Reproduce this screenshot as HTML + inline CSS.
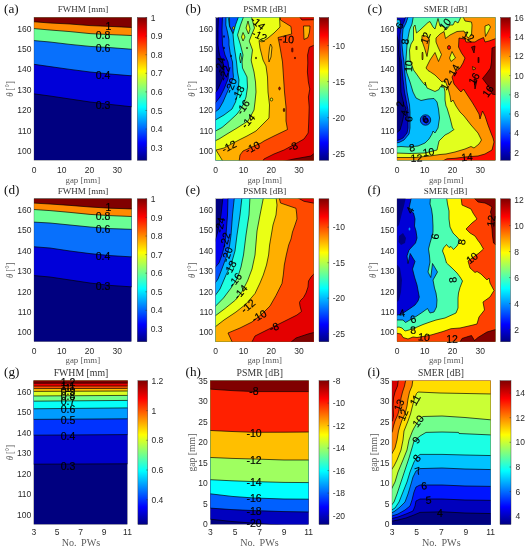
<!DOCTYPE html>
<html lang="en"><head><meta charset="utf-8"><title>Contour figure</title>
<style>
html,body{margin:0;padding:0;background:#fff;}
svg{display:block;}
.s{font-family:"Liberation Sans", Arial, sans-serif;}
.r{font-family:"Liberation Serif", "DejaVu Serif", serif;}
.lb{stroke:#000;stroke-width:0.15;}
.cl{stroke:#000;stroke-width:0.8;stroke-opacity:0.85;fill-opacity:1;stroke-linejoin:round;}
polyline.cl{fill:none;}
</style></head><body>
<svg width="527" height="550" viewBox="0 0 527 550">
<defs>
<linearGradient id="jet" x1="0" y1="1" x2="0" y2="0">
<stop offset="0" stop-color="#000083"/><stop offset="0.1216" stop-color="#0000ff"/><stop offset="0.373" stop-color="#00ffff"/>
<stop offset="0.624" stop-color="#ffff00"/><stop offset="0.875" stop-color="#ff0000"/><stop offset="1" stop-color="#800000"/>
</linearGradient>
<clipPath id="cpa"><rect x="34.0" y="17.5" width="97.6" height="142.8"/></clipPath>
<clipPath id="cpd"><rect x="34.0" y="198.8" width="97.6" height="143.0"/></clipPath>
<clipPath id="cpb"><rect x="215.7" y="17.5" width="98.0" height="142.8"/></clipPath>
<clipPath id="cpc"><rect x="397.0" y="17.5" width="98.3" height="142.8"/></clipPath>
<clipPath id="cpe"><rect x="215.7" y="198.8" width="98.0" height="143.0"/></clipPath>
<clipPath id="cpf"><rect x="397.0" y="198.8" width="98.3" height="143.0"/></clipPath>
<clipPath id="cpg"><rect x="33.8" y="380.7" width="93.7" height="143.8"/></clipPath>
<clipPath id="cph"><rect x="210.4" y="380.7" width="98.2" height="143.8"/></clipPath>
<clipPath id="cpi"><rect x="392.0" y="380.7" width="98.6" height="143.8"/></clipPath>
</defs>
<rect width="527" height="550" fill="#fff"/>
<g clip-path="url(#cpa)">
<rect x="34.0" y="17.5" width="97.6" height="142.8" fill="#000080"/>
<polygon points="32.0,93.6 50.0,96.0 70.0,99.0 90.0,102.0 110.0,104.4 133.6,107.0 133.6,15.5 32.0,15.5" fill="#0000d9"/>
<polyline class="cl" points="32.0,93.6 50.0,96.0 70.0,99.0 90.0,102.0 110.0,104.4 133.6,107.0"/>
<polygon points="32.0,64.0 50.0,66.6 70.0,69.4 90.0,72.0 110.0,74.0 133.6,76.0 133.6,15.5 32.0,15.5" fill="#0870fc"/>
<polyline class="cl" points="32.0,64.0 50.0,66.6 70.0,69.4 90.0,72.0 110.0,74.0 133.6,76.0"/>
<polygon points="32.0,40.4 50.0,42.0 70.0,44.4 90.0,46.4 110.0,47.6 133.6,49.4 133.6,15.5 32.0,15.5" fill="#6aff95"/>
<polyline class="cl" points="32.0,40.4 50.0,42.0 70.0,44.4 90.0,46.4 110.0,47.6 133.6,49.4"/>
<polygon points="32.0,28.4 50.0,30.0 70.0,31.6 90.0,33.6 110.0,34.6 133.6,35.6 133.6,15.5 32.0,15.5" fill="#ff8a00"/>
<polyline class="cl" points="32.0,28.4 50.0,30.0 70.0,31.6 90.0,33.6 110.0,34.6 133.6,35.6"/>
<polygon points="32.0,21.6 50.0,23.0 70.0,24.0 90.0,25.6 110.0,26.4 133.6,27.6 133.6,15.5 32.0,15.5" fill="#800000"/>
<polyline class="cl" points="32.0,21.6 50.0,23.0 70.0,24.0 90.0,25.6 110.0,26.4 133.6,27.6"/>
</g>
<text class="s lb" x="108.4" y="26.5" font-size="10.5" text-anchor="middle" fill="#000" transform="rotate(0.0 108.4 26.5)" dy="3.8">1</text>
<text class="s lb" x="103.0" y="35.0" font-size="10.5" text-anchor="middle" fill="#000" transform="rotate(0.0 103.0 35.0)" dy="3.8">0.8</text>
<text class="s lb" x="103.0" y="48.0" font-size="10.5" text-anchor="middle" fill="#000" transform="rotate(0.0 103.0 48.0)" dy="3.8">0.6</text>
<text class="s lb" x="103.0" y="75.0" font-size="10.5" text-anchor="middle" fill="#000" transform="rotate(0.0 103.0 75.0)" dy="3.8">0.4</text>
<text class="s lb" x="103.0" y="105.0" font-size="10.5" text-anchor="middle" fill="#000" transform="rotate(0.0 103.0 105.0)" dy="3.8">0.3</text>
<rect x="34.0" y="17.5" width="97.6" height="142.8" fill="none" stroke="#333" stroke-width="0.4" stroke-opacity="0.7"/>
<rect x="137.3" y="17.5" width="9.6" height="142.8" fill="url(#jet)" stroke="#333" stroke-width="0.4"/>
<line x1="145.4" y1="17.5" x2="146.9" y2="17.5" stroke="#333" stroke-width="0.5"/>
<text class="s" x="150.7" y="20.6" font-size="8.5" text-anchor="start" fill="#2a2a2a">1</text>
<line x1="145.4" y1="36.1" x2="146.9" y2="36.1" stroke="#333" stroke-width="0.5"/>
<text class="s" x="150.7" y="39.1" font-size="8.5" text-anchor="start" fill="#2a2a2a">0.9</text>
<line x1="145.4" y1="54.7" x2="146.9" y2="54.7" stroke="#333" stroke-width="0.5"/>
<text class="s" x="150.7" y="57.7" font-size="8.5" text-anchor="start" fill="#2a2a2a">0.8</text>
<line x1="145.4" y1="73.3" x2="146.9" y2="73.3" stroke="#333" stroke-width="0.5"/>
<text class="s" x="150.7" y="76.4" font-size="8.5" text-anchor="start" fill="#2a2a2a">0.7</text>
<line x1="145.4" y1="91.9" x2="146.9" y2="91.9" stroke="#333" stroke-width="0.5"/>
<text class="s" x="150.7" y="95.0" font-size="8.5" text-anchor="start" fill="#2a2a2a">0.6</text>
<line x1="145.4" y1="110.5" x2="146.9" y2="110.5" stroke="#333" stroke-width="0.5"/>
<text class="s" x="150.7" y="113.5" font-size="8.5" text-anchor="start" fill="#2a2a2a">0.5</text>
<line x1="145.4" y1="129.1" x2="146.9" y2="129.1" stroke="#333" stroke-width="0.5"/>
<text class="s" x="150.7" y="132.2" font-size="8.5" text-anchor="start" fill="#2a2a2a">0.4</text>
<line x1="145.4" y1="147.7" x2="146.9" y2="147.7" stroke="#333" stroke-width="0.5"/>
<text class="s" x="150.7" y="150.8" font-size="8.5" text-anchor="start" fill="#2a2a2a">0.3</text>
<text class="s" x="31.4" y="31.6" font-size="8.5" text-anchor="end" fill="#2a2a2a">160</text>
<text class="s" x="31.4" y="52.0" font-size="8.5" text-anchor="end" fill="#2a2a2a">150</text>
<text class="s" x="31.4" y="72.4" font-size="8.5" text-anchor="end" fill="#2a2a2a">140</text>
<text class="s" x="31.4" y="92.8" font-size="8.5" text-anchor="end" fill="#2a2a2a">130</text>
<text class="s" x="31.4" y="113.2" font-size="8.5" text-anchor="end" fill="#2a2a2a">120</text>
<text class="s" x="31.4" y="133.7" font-size="8.5" text-anchor="end" fill="#2a2a2a">110</text>
<text class="s" x="31.4" y="154.1" font-size="8.5" text-anchor="end" fill="#2a2a2a">100</text>
<text class="s" x="34.0" y="172.6" font-size="8.5" text-anchor="middle" fill="#2a2a2a">0</text>
<text class="s" x="61.8" y="172.6" font-size="8.5" text-anchor="middle" fill="#2a2a2a">10</text>
<text class="s" x="89.5" y="172.6" font-size="8.5" text-anchor="middle" fill="#2a2a2a">20</text>
<text class="s" x="117.2" y="172.6" font-size="8.5" text-anchor="middle" fill="#2a2a2a">30</text>
<g clip-path="url(#cpd)">
<rect x="34.0" y="198.8" width="97.6" height="143.0" fill="#000080"/>
<polygon points="32.0,275.4 50.0,277.0 70.0,280.0 90.0,283.0 110.0,285.4 133.6,287.0 133.6,196.8 32.0,196.8" fill="#0000d9"/>
<polyline class="cl" points="32.0,275.4 50.0,277.0 70.0,280.0 90.0,283.0 110.0,285.4 133.6,287.0"/>
<polygon points="32.0,246.6 50.0,248.0 70.0,251.0 90.0,253.6 110.0,255.6 133.6,257.0 133.6,196.8 32.0,196.8" fill="#0870fc"/>
<polyline class="cl" points="32.0,246.6 50.0,248.0 70.0,251.0 90.0,253.6 110.0,255.6 133.6,257.0"/>
<polygon points="32.0,222.0 50.0,223.0 70.0,225.0 90.0,227.0 110.0,228.6 133.6,229.4 133.6,196.8 32.0,196.8" fill="#6aff95"/>
<polyline class="cl" points="32.0,222.0 50.0,223.0 70.0,225.0 90.0,227.0 110.0,228.6 133.6,229.4"/>
<polygon points="32.0,209.4 50.0,210.6 70.0,212.4 90.0,214.4 110.0,215.6 133.6,216.6 133.6,196.8 32.0,196.8" fill="#ff8a00"/>
<polyline class="cl" points="32.0,209.4 50.0,210.6 70.0,212.4 90.0,214.4 110.0,215.6 133.6,216.6"/>
<polygon points="32.0,203.0 50.0,204.0 70.0,205.4 90.0,207.0 110.0,208.2 133.6,209.0 133.6,196.8 32.0,196.8" fill="#800000"/>
<polyline class="cl" points="32.0,203.0 50.0,204.0 70.0,205.4 90.0,207.0 110.0,208.2 133.6,209.0"/>
</g>
<text class="s lb" x="108.4" y="207.5" font-size="10.5" text-anchor="middle" fill="#000" transform="rotate(0.0 108.4 207.5)" dy="3.8">1</text>
<text class="s lb" x="103.0" y="216.0" font-size="10.5" text-anchor="middle" fill="#000" transform="rotate(0.0 103.0 216.0)" dy="3.8">0.8</text>
<text class="s lb" x="103.0" y="229.0" font-size="10.5" text-anchor="middle" fill="#000" transform="rotate(0.0 103.0 229.0)" dy="3.8">0.6</text>
<text class="s lb" x="103.0" y="256.0" font-size="10.5" text-anchor="middle" fill="#000" transform="rotate(0.0 103.0 256.0)" dy="3.8">0.4</text>
<text class="s lb" x="103.0" y="286.0" font-size="10.5" text-anchor="middle" fill="#000" transform="rotate(0.0 103.0 286.0)" dy="3.8">0.3</text>
<rect x="34.0" y="198.8" width="97.6" height="143.0" fill="none" stroke="#333" stroke-width="0.4" stroke-opacity="0.7"/>
<rect x="137.3" y="198.8" width="9.6" height="143.0" fill="url(#jet)" stroke="#333" stroke-width="0.4"/>
<line x1="145.4" y1="198.8" x2="146.9" y2="198.8" stroke="#333" stroke-width="0.5"/>
<text class="s" x="150.7" y="201.9" font-size="8.5" text-anchor="start" fill="#2a2a2a">1</text>
<line x1="145.4" y1="217.4" x2="146.9" y2="217.4" stroke="#333" stroke-width="0.5"/>
<text class="s" x="150.7" y="220.5" font-size="8.5" text-anchor="start" fill="#2a2a2a">0.9</text>
<line x1="145.4" y1="236.0" x2="146.9" y2="236.0" stroke="#333" stroke-width="0.5"/>
<text class="s" x="150.7" y="239.1" font-size="8.5" text-anchor="start" fill="#2a2a2a">0.8</text>
<line x1="145.4" y1="254.6" x2="146.9" y2="254.6" stroke="#333" stroke-width="0.5"/>
<text class="s" x="150.7" y="257.7" font-size="8.5" text-anchor="start" fill="#2a2a2a">0.7</text>
<line x1="145.4" y1="273.2" x2="146.9" y2="273.2" stroke="#333" stroke-width="0.5"/>
<text class="s" x="150.7" y="276.3" font-size="8.5" text-anchor="start" fill="#2a2a2a">0.6</text>
<line x1="145.4" y1="291.8" x2="146.9" y2="291.8" stroke="#333" stroke-width="0.5"/>
<text class="s" x="150.7" y="294.9" font-size="8.5" text-anchor="start" fill="#2a2a2a">0.5</text>
<line x1="145.4" y1="310.4" x2="146.9" y2="310.4" stroke="#333" stroke-width="0.5"/>
<text class="s" x="150.7" y="313.4" font-size="8.5" text-anchor="start" fill="#2a2a2a">0.4</text>
<line x1="145.4" y1="329.0" x2="146.9" y2="329.0" stroke="#333" stroke-width="0.5"/>
<text class="s" x="150.7" y="332.1" font-size="8.5" text-anchor="start" fill="#2a2a2a">0.3</text>
<text class="s" x="31.4" y="212.9" font-size="8.5" text-anchor="end" fill="#2a2a2a">160</text>
<text class="s" x="31.4" y="233.3" font-size="8.5" text-anchor="end" fill="#2a2a2a">150</text>
<text class="s" x="31.4" y="253.7" font-size="8.5" text-anchor="end" fill="#2a2a2a">140</text>
<text class="s" x="31.4" y="274.1" font-size="8.5" text-anchor="end" fill="#2a2a2a">130</text>
<text class="s" x="31.4" y="294.5" font-size="8.5" text-anchor="end" fill="#2a2a2a">120</text>
<text class="s" x="31.4" y="314.9" font-size="8.5" text-anchor="end" fill="#2a2a2a">110</text>
<text class="s" x="31.4" y="335.4" font-size="8.5" text-anchor="end" fill="#2a2a2a">100</text>
<text class="s" x="34.0" y="354.1" font-size="8.5" text-anchor="middle" fill="#2a2a2a">0</text>
<text class="s" x="61.8" y="354.1" font-size="8.5" text-anchor="middle" fill="#2a2a2a">10</text>
<text class="s" x="89.5" y="354.1" font-size="8.5" text-anchor="middle" fill="#2a2a2a">20</text>
<text class="s" x="117.2" y="354.1" font-size="8.5" text-anchor="middle" fill="#2a2a2a">30</text>
<g clip-path="url(#cpb)">
<rect x="215.7" y="17.5" width="98.0" height="142.8" fill="#000080"/>
<polygon points="218.5,15.5 218.0,30.0 218.0,45.0 219.5,55.0 223.0,62.0 224.0,68.0 224.0,75.0 221.0,82.0 218.0,89.0 213.7,95.0 213.7,162.3 315.7,162.3 315.7,15.5" fill="#0000e6"/>
<polyline class="cl" points="218.5,15.5 218.0,30.0 218.0,45.0 219.5,55.0 223.0,62.0 224.0,68.0 224.0,75.0 221.0,82.0 218.0,89.0 213.7,95.0"/>
<polygon points="222.5,15.5 222.0,30.0 222.5,45.0 225.0,55.0 228.0,62.0 229.0,70.0 228.0,79.0 224.0,89.0 220.0,97.0 213.7,105.0 213.7,162.3 315.7,162.3 315.7,15.5" fill="#004eff"/>
<polyline class="cl" points="222.5,15.5 222.0,30.0 222.5,45.0 225.0,55.0 228.0,62.0 229.0,70.0 228.0,79.0 224.0,89.0 220.0,97.0 213.7,105.0"/>
<polygon points="226.0,15.5 225.8,25.0 227.5,32.0 229.0,40.0 229.0,45.0 230.5,55.0 232.5,62.0 233.0,72.0 233.5,77.0 230.5,85.0 226.0,95.0 223.0,102.0 219.0,109.0 213.7,113.0 213.7,162.3 315.7,162.3 315.7,15.5" fill="#00b4ff"/>
<polyline class="cl" points="226.0,15.5 225.8,25.0 227.5,32.0 229.0,40.0 229.0,45.0 230.5,55.0 232.5,62.0 233.0,72.0 233.5,77.0 230.5,85.0 226.0,95.0 223.0,102.0 219.0,109.0 213.7,113.0"/>
<polygon points="228.0,15.5 229.5,26.0 233.0,34.0 233.5,40.0 234.0,45.0 235.5,55.0 236.5,62.0 237.5,72.0 239.0,80.0 238.0,92.0 235.5,102.0 232.0,109.0 224.0,115.0 213.7,121.0 213.7,162.3 315.7,162.3 315.7,15.5" fill="#1cffe3"/>
<polyline class="cl" points="228.0,15.5 229.5,26.0 233.0,34.0 233.5,40.0 234.0,45.0 235.5,55.0 236.5,62.0 237.5,72.0 239.0,80.0 238.0,92.0 235.5,102.0 232.0,109.0 224.0,115.0 213.7,121.0"/>
<polygon points="244.0,15.5 240.5,25.0 237.5,35.0 240.5,45.0 243.0,55.0 242.0,62.0 242.5,68.0 247.0,77.0 247.5,87.0 246.0,97.0 243.5,104.0 240.0,110.0 237.0,114.0 229.0,121.5 222.0,127.5 213.7,132.0 213.7,162.3 315.7,162.3 315.7,15.5" fill="#82ff7d"/>
<polyline class="cl" points="244.0,15.5 240.5,25.0 237.5,35.0 240.5,45.0 243.0,55.0 242.0,62.0 242.5,68.0 247.0,77.0 247.5,87.0 246.0,97.0 243.5,104.0 240.0,110.0 237.0,114.0 229.0,121.5 222.0,127.5 213.7,132.0"/>
<polygon points="251.0,15.5 254.5,28.0 251.5,35.0 249.2,41.0 252.5,50.0 251.2,60.0 251.5,62.0 254.0,72.0 255.5,82.0 256.0,92.0 255.0,102.0 254.0,110.0 248.0,121.0 237.0,128.0 227.0,134.0 219.0,139.0 213.7,141.5 213.7,162.3 315.7,162.3 315.7,15.5" fill="#e9ff16"/>
<polyline class="cl" points="251.0,15.5 254.5,28.0 251.5,35.0 249.2,41.0 252.5,50.0 251.2,60.0 251.5,62.0 254.0,72.0 255.5,82.0 256.0,92.0 255.0,102.0 254.0,110.0 248.0,121.0 237.0,128.0 227.0,134.0 219.0,139.0 213.7,141.5"/>
<polygon points="279.5,15.5 280.0,27.0 274.0,33.0 268.0,38.0 262.0,42.0 259.0,40.5 260.0,48.0 263.0,60.0 266.0,66.0 267.5,77.0 268.0,92.0 269.5,105.0 269.0,118.0 265.0,122.0 256.0,131.0 247.0,136.0 239.0,140.0 224.0,148.0 216.0,150.0 223.5,162.3 315.7,162.3 315.7,15.5" fill="#ffaf00"/>
<polyline class="cl" points="279.5,15.5 280.0,27.0 274.0,33.0 268.0,38.0 262.0,42.0 259.0,40.5 260.0,48.0 263.0,60.0 266.0,66.0 267.5,77.0 268.0,92.0 269.5,105.0 269.0,118.0 265.0,122.0 256.0,131.0 247.0,136.0 239.0,140.0 224.0,148.0 216.0,150.0 223.5,162.3"/>
<polygon points="280.3,15.5 280.5,20.0 291.0,26.5 291.7,34.0 278.0,37.5 279.0,42.0 280.5,50.0 282.5,62.0 283.5,77.0 284.5,92.0 286.0,107.0 286.0,121.0 287.5,129.5 274.0,136.0 264.0,141.0 261.0,143.0 243.0,151.0 240.0,155.0 239.0,162.3 315.7,162.3 315.7,15.5" fill="#ff4800"/>
<polyline class="cl" points="280.3,15.5 280.5,20.0 291.0,26.5 291.7,34.0 278.0,37.5 279.0,42.0 280.5,50.0 282.5,62.0 283.5,77.0 284.5,92.0 286.0,107.0 286.0,121.0 287.5,129.5 274.0,136.0 264.0,141.0 261.0,143.0 243.0,151.0 240.0,155.0 239.0,162.3"/>
<polygon points="315.7,44.5 309.3,47.3 307.6,55.0 307.8,63.0 307.4,72.0 308.4,82.0 309.8,89.0 308.4,97.0 309.2,107.0 308.7,123.0 308.2,133.0 304.0,139.0 297.0,143.0 284.0,150.0 274.0,154.0 264.0,159.0 262.0,162.3 315.7,162.3" fill="#e10000"/>
<polyline class="cl" points="315.7,44.5 309.3,47.3 307.6,55.0 307.8,63.0 307.4,72.0 308.4,82.0 309.8,89.0 308.4,97.0 309.2,107.0 308.7,123.0 308.2,133.0 304.0,139.0 297.0,143.0 284.0,150.0 274.0,154.0 264.0,159.0 262.0,162.3"/>
<polygon points="298.5,15.5 302.0,20.0 315.7,19.7 315.7,15.5" fill="#e10000"/>
<polyline class="cl" points="298.5,15.5 302.0,20.0 315.7,19.7"/>
<polygon points="315.7,152.0 311.0,156.0 294.0,159.0 279.0,162.3 315.7,162.3" fill="#800000"/>
<polyline class="cl" points="315.7,152.0 311.0,156.0 294.0,159.0 279.0,162.3"/>
<polygon class="cl" points="229.5,15.5 239.0,15.5 235.5,25.0 233.2,33.5 229.6,26.0" fill="#004eff"/>
<ellipse class="cl" cx="233.5" cy="28.0" rx="0.9" ry="1.4" fill="#e9ff16"/>
<polygon class="cl" points="248.0,21.0 250.0,29.0 248.5,34.0 246.0,28.0" fill="#e9ff16"/>
<polygon class="cl" points="243.0,32.5 245.0,37.0 243.0,41.0 241.5,37.0" fill="#e9ff16"/>
<polygon class="cl" points="240.5,53.0 241.5,58.0 240.5,63.0 239.5,58.0" fill="#82ff7d"/>
<polygon class="cl" points="303.5,26.0 310.0,26.0 309.5,32.0 308.0,37.5 304.0,39.5" fill="#ffaf00"/>
<polygon class="cl" points="270.5,44.0 272.0,47.0 271.0,57.0 269.0,62.0 268.5,57.0 269.5,48.0" fill="#ffd21e"/>
<ellipse class="cl" cx="292.3" cy="50.0" rx="0.6" ry="2.2" fill="#e10000"/>
<ellipse class="cl" cx="295.0" cy="58.0" rx="0.6" ry="0.8" fill="#e10000"/>
<ellipse class="cl" cx="279.5" cy="88.5" rx="0.8" ry="1.4" fill="#e10000"/>
<ellipse class="cl" cx="271.5" cy="99.5" rx="1.2" ry="1.5" fill="#e9ff16"/>
<ellipse class="cl" cx="284.0" cy="110.0" rx="0.7" ry="1.8" fill="#e10000"/>
<ellipse class="cl" cx="224.0" cy="36.5" rx="0.5" ry="1.0" fill="#0000e6"/>
<ellipse class="cl" cx="224.0" cy="48.0" rx="0.5" ry="1.0" fill="#0000e6"/>
<ellipse class="cl" cx="231.0" cy="56.0" rx="0.5" ry="1.3" fill="#004eff"/>
<ellipse class="cl" cx="256.0" cy="58.0" rx="0.5" ry="1.0" fill="#ffaf00"/>
<ellipse class="cl" cx="247.0" cy="48.0" rx="0.5" ry="0.8" fill="#e9ff16"/>
</g>
<text class="s lb" x="258.0" y="23.0" font-size="10.5" text-anchor="middle" fill="#000" transform="rotate(40.0 258.0 23.0)" dy="3.8">-14</text>
<text class="s lb" x="259.5" y="35.5" font-size="10.5" text-anchor="middle" fill="#000" transform="rotate(25.0 259.5 35.5)" dy="3.8">-12</text>
<text class="s lb" x="286.5" y="39.0" font-size="10.5" text-anchor="middle" fill="#000" transform="rotate(3.0 286.5 39.0)" dy="3.8">-10</text>
<text class="s lb" x="220.0" y="65.0" font-size="10.5" text-anchor="middle" fill="#000" transform="rotate(-78.0 220.0 65.0)" dy="3.8">-24</text>
<text class="s lb" x="224.5" y="73.0" font-size="10.5" text-anchor="middle" fill="#000" transform="rotate(-72.0 224.5 73.0)" dy="3.8">-22</text>
<text class="s lb" x="230.8" y="85.5" font-size="10.5" text-anchor="middle" fill="#000" transform="rotate(-68.0 230.8 85.5)" dy="3.8">-20</text>
<text class="s lb" x="238.0" y="93.0" font-size="10.5" text-anchor="middle" fill="#000" transform="rotate(-62.0 238.0 93.0)" dy="3.8">-18</text>
<text class="s lb" x="243.0" y="107.0" font-size="10.5" text-anchor="middle" fill="#000" transform="rotate(-55.0 243.0 107.0)" dy="3.8">-16</text>
<text class="s lb" x="248.0" y="121.0" font-size="10.5" text-anchor="middle" fill="#000" transform="rotate(-48.0 248.0 121.0)" dy="3.8">-14</text>
<text class="s lb" x="229.0" y="146.5" font-size="10.5" text-anchor="middle" fill="#000" transform="rotate(-27.0 229.0 146.5)" dy="3.8">-12</text>
<text class="s lb" x="252.5" y="147.5" font-size="10.5" text-anchor="middle" fill="#000" transform="rotate(-27.0 252.5 147.5)" dy="3.8">-10</text>
<text class="s lb" x="293.0" y="146.5" font-size="10.5" text-anchor="middle" fill="#000" transform="rotate(-25.0 293.0 146.5)" dy="3.8">-8</text>
<rect x="215.7" y="17.5" width="98.0" height="142.8" fill="none" stroke="#333" stroke-width="0.4" stroke-opacity="0.7"/>
<rect x="319.2" y="17.5" width="9.6" height="142.8" fill="url(#jet)" stroke="#333" stroke-width="0.4"/>
<line x1="327.3" y1="45.5" x2="328.8" y2="45.5" stroke="#333" stroke-width="0.5"/>
<text class="s" x="332.6" y="48.5" font-size="8.5" text-anchor="start" fill="#2a2a2a">-10</text>
<line x1="327.3" y1="81.6" x2="328.8" y2="81.6" stroke="#333" stroke-width="0.5"/>
<text class="s" x="332.6" y="84.6" font-size="8.5" text-anchor="start" fill="#2a2a2a">-15</text>
<line x1="327.3" y1="117.7" x2="328.8" y2="117.7" stroke="#333" stroke-width="0.5"/>
<text class="s" x="332.6" y="120.8" font-size="8.5" text-anchor="start" fill="#2a2a2a">-20</text>
<line x1="327.3" y1="153.8" x2="328.8" y2="153.8" stroke="#333" stroke-width="0.5"/>
<text class="s" x="332.6" y="156.9" font-size="8.5" text-anchor="start" fill="#2a2a2a">-25</text>
<text class="s" x="213.1" y="31.6" font-size="8.5" text-anchor="end" fill="#2a2a2a">160</text>
<text class="s" x="213.1" y="52.0" font-size="8.5" text-anchor="end" fill="#2a2a2a">150</text>
<text class="s" x="213.1" y="72.4" font-size="8.5" text-anchor="end" fill="#2a2a2a">140</text>
<text class="s" x="213.1" y="92.8" font-size="8.5" text-anchor="end" fill="#2a2a2a">130</text>
<text class="s" x="213.1" y="113.2" font-size="8.5" text-anchor="end" fill="#2a2a2a">120</text>
<text class="s" x="213.1" y="133.7" font-size="8.5" text-anchor="end" fill="#2a2a2a">110</text>
<text class="s" x="213.1" y="154.1" font-size="8.5" text-anchor="end" fill="#2a2a2a">100</text>
<text class="s" x="215.7" y="172.6" font-size="8.5" text-anchor="middle" fill="#2a2a2a">0</text>
<text class="s" x="243.4" y="172.6" font-size="8.5" text-anchor="middle" fill="#2a2a2a">10</text>
<text class="s" x="271.2" y="172.6" font-size="8.5" text-anchor="middle" fill="#2a2a2a">20</text>
<text class="s" x="298.9" y="172.6" font-size="8.5" text-anchor="middle" fill="#2a2a2a">30</text>
<g clip-path="url(#cpc)">
<rect x="397.0" y="17.5" width="98.3" height="142.8" fill="#0000bd"/>
<polygon points="395.0,28.0 398.0,40.0 399.0,55.0 400.0,62.0 400.5,80.0 401.0,92.0 404.0,105.0 406.0,108.0 404.0,114.0 402.0,123.0 400.0,130.0 395.0,134.0" fill="#000080"/>
<polyline class="cl" points="395.0,28.0 398.0,40.0 399.0,55.0 400.0,62.0 400.5,80.0 401.0,92.0 404.0,105.0 406.0,108.0 404.0,114.0 402.0,123.0 400.0,130.0 395.0,134.0"/>
<polygon points="406.0,15.5 404.0,22.0 401.0,28.0 400.0,35.0 400.0,45.0 400.5,55.0 401.5,62.0 402.5,75.0 404.5,92.0 407.0,105.0 408.0,110.0 408.0,128.0 407.0,133.0 403.0,138.0 399.0,140.0 395.0,141.0 395.0,162.3 497.3,162.3 497.3,15.5" fill="#0046ff"/>
<polyline class="cl" points="406.0,15.5 404.0,22.0 401.0,28.0 400.0,35.0 400.0,45.0 400.5,55.0 401.5,62.0 402.5,75.0 404.5,92.0 407.0,105.0 408.0,110.0 408.0,128.0 407.0,133.0 403.0,138.0 399.0,140.0 395.0,141.0"/>
<polygon points="408.5,15.5 406.0,23.0 403.0,29.0 402.5,35.0 402.0,45.0 403.0,55.0 404.0,62.0 405.0,75.0 407.0,92.0 409.5,105.0 410.0,112.0 410.0,128.0 409.0,134.0 404.0,140.0 399.0,142.5 395.0,143.0 395.0,162.3 497.3,162.3 497.3,15.5" fill="#04beff"/>
<polyline class="cl" points="408.5,15.5 406.0,23.0 403.0,29.0 402.5,35.0 402.0,45.0 403.0,55.0 404.0,62.0 405.0,75.0 407.0,92.0 409.5,105.0 410.0,112.0 410.0,128.0 409.0,134.0 404.0,140.0 399.0,142.5 395.0,143.0"/>
<polygon points="413.5,15.5 412.0,24.0 409.5,30.0 408.0,38.0 407.0,45.0 406.3,55.0 405.8,62.0 406.5,72.0 410.0,82.0 413.0,92.0 416.0,98.0 421.0,100.5 428.0,99.0 434.0,98.5 437.0,102.0 438.5,109.0 439.5,118.0 438.0,128.0 435.0,133.0 433.0,131.0 432.0,134.0 429.0,139.0 425.0,143.0 418.0,146.0 408.0,147.0 401.0,146.5 395.0,147.0 395.0,162.3 497.3,162.3 497.3,15.5" fill="#58ffa7"/>
<polyline class="cl" points="413.5,15.5 412.0,24.0 409.5,30.0 408.0,38.0 407.0,45.0 406.3,55.0 405.8,62.0 406.5,72.0 410.0,82.0 413.0,92.0 416.0,98.0 421.0,100.5 428.0,99.0 434.0,98.5 437.0,102.0 438.5,109.0 439.5,118.0 438.0,128.0 435.0,133.0 433.0,131.0 432.0,134.0 429.0,139.0 425.0,143.0 418.0,146.0 408.0,147.0 401.0,146.5 395.0,147.0"/>
<polygon points="461.5,15.5 460.0,19.0 458.0,23.0 455.0,21.0 453.0,25.0 450.0,25.0 446.0,30.0 443.0,26.0 440.0,26.0 438.0,18.5 435.0,29.0 433.0,27.0 430.0,21.5 428.0,22.5 420.0,30.0 416.5,33.0 415.0,25.0 413.5,27.0 413.5,40.0 411.0,44.0 409.5,50.0 410.0,60.0 411.5,64.0 413.5,70.0 416.5,74.0 420.0,79.0 423.5,83.5 425.5,85.5 425.0,82.0 427.0,88.0 435.0,91.5 439.0,89.5 440.5,86.5 444.0,87.0 445.0,92.0 445.0,100.0 446.0,106.0 447.0,108.0 450.0,118.0 452.5,128.0 454.0,129.5 449.0,133.0 445.0,135.0 442.0,138.0 439.0,141.0 437.0,150.0 425.0,153.0 410.0,153.5 395.0,153.0 395.0,162.3 497.3,162.3 497.3,15.5" fill="#e1ff1e"/>
<polyline class="cl" points="461.5,15.5 460.0,19.0 458.0,23.0 455.0,21.0 453.0,25.0 450.0,25.0 446.0,30.0 443.0,26.0 440.0,26.0 438.0,18.5 435.0,29.0 433.0,27.0 430.0,21.5 428.0,22.5 420.0,30.0 416.5,33.0 415.0,25.0 413.5,27.0 413.5,40.0 411.0,44.0 409.5,50.0 410.0,60.0 411.5,64.0 413.5,70.0 416.5,74.0 420.0,79.0 423.5,83.5 425.5,85.5 425.0,82.0 427.0,88.0 435.0,91.5 439.0,89.5 440.5,86.5 444.0,87.0 445.0,92.0 445.0,100.0 446.0,106.0 447.0,108.0 450.0,118.0 452.5,128.0 454.0,129.5 449.0,133.0 445.0,135.0 442.0,138.0 439.0,141.0 437.0,150.0 425.0,153.0 410.0,153.5 395.0,153.0"/>
<polygon points="462.5,15.5 465.0,21.0 471.5,22.0 472.0,25.0 471.5,35.0 468.0,38.0 466.0,35.0 464.0,31.0 457.0,31.5 450.0,35.0 445.5,38.5 444.0,31.5 440.0,34.0 436.0,38.0 436.0,42.0 438.0,47.0 441.5,54.5 438.5,61.5 435.0,52.5 430.0,60.0 426.0,68.0 428.0,70.5 430.5,72.0 435.0,75.0 439.0,79.0 442.0,82.0 445.0,80.5 448.0,88.0 450.0,96.0 451.0,102.0 453.0,100.0 456.0,106.0 460.0,112.0 464.0,116.0 471.0,125.0 478.0,133.0 481.5,140.0 479.0,144.0 474.0,148.0 471.0,146.5 465.0,149.0 455.0,152.0 446.0,154.0 440.0,154.5 430.0,156.0 415.0,157.5 395.0,157.5 395.0,162.3 497.3,162.3 497.3,15.5" fill="#ff9500"/>
<polyline class="cl" points="462.5,15.5 465.0,21.0 471.5,22.0 472.0,25.0 471.5,35.0 468.0,38.0 466.0,35.0 464.0,31.0 457.0,31.5 450.0,35.0 445.5,38.5 444.0,31.5 440.0,34.0 436.0,38.0 436.0,42.0 438.0,47.0 441.5,54.5 438.5,61.5 435.0,52.5 430.0,60.0 426.0,68.0 428.0,70.5 430.5,72.0 435.0,75.0 439.0,79.0 442.0,82.0 445.0,80.5 448.0,88.0 450.0,96.0 451.0,102.0 453.0,100.0 456.0,106.0 460.0,112.0 464.0,116.0 471.0,125.0 478.0,133.0 481.5,140.0 479.0,144.0 474.0,148.0 471.0,146.5 465.0,149.0 455.0,152.0 446.0,154.0 440.0,154.5 430.0,156.0 415.0,157.5 395.0,157.5"/>
<polygon points="497.3,38.0 489.0,41.0 485.0,42.0 483.5,37.5 478.0,40.0 475.0,42.0 466.0,42.0 465.0,39.0 459.0,38.0 458.5,47.0 461.5,53.0 465.0,58.0 463.0,63.0 460.0,68.0 455.0,72.0 452.0,77.0 454.0,84.0 459.0,90.0 461.0,92.0 463.5,89.0 468.0,96.0 472.0,102.0 475.0,107.0 479.0,114.0 480.0,119.0 482.5,111.0 485.0,116.0 488.0,125.0 491.0,133.0 493.0,138.0 494.0,142.0 492.0,150.0 485.0,154.0 478.0,156.0 465.0,157.0 455.0,158.3 447.0,158.8 440.0,162.3 497.3,162.3" fill="#ff0c00"/>
<polyline class="cl" points="497.3,38.0 489.0,41.0 485.0,42.0 483.5,37.5 478.0,40.0 475.0,42.0 466.0,42.0 465.0,39.0 459.0,38.0 458.5,47.0 461.5,53.0 465.0,58.0 463.0,63.0 460.0,68.0 455.0,72.0 452.0,77.0 454.0,84.0 459.0,90.0 461.0,92.0 463.5,89.0 468.0,96.0 472.0,102.0 475.0,107.0 479.0,114.0 480.0,119.0 482.5,111.0 485.0,116.0 488.0,125.0 491.0,133.0 493.0,138.0 494.0,142.0 492.0,150.0 485.0,154.0 478.0,156.0 465.0,157.0 455.0,158.3 447.0,158.8 440.0,162.3"/>
<polygon points="497.3,46.0 492.0,48.0 491.5,62.0 490.5,68.0 487.0,73.0 482.5,78.5 489.0,87.0 492.0,94.0 497.3,95.0" fill="#830000"/>
<polyline class="cl" points="497.3,46.0 492.0,48.0 491.5,62.0 490.5,68.0 487.0,73.0 482.5,78.5 489.0,87.0 492.0,94.0 497.3,95.0"/>
<polygon class="cl" points="395.0,19.5 400.0,20.0 400.5,27.0 395.0,29.0" fill="#00cfff"/>
<polygon class="cl" points="471.5,47.0 475.0,46.0 474.0,53.0" fill="#830000"/>
<polygon class="cl" points="474.0,79.0 477.0,80.0 475.0,89.0" fill="#830000"/>
<ellipse class="cl" cx="478.5" cy="60.0" rx="0.5" ry="3.0" fill="#830000"/>
<polygon class="cl" points="472.5,66.5 476.0,68.5 473.0,70.0" fill="#ff9500"/>
<polygon class="cl" points="485.0,26.0 489.0,24.5 490.5,27.0 488.0,32.0 485.5,36.5 485.0,31.0" fill="#e1ff1e"/>
<polygon class="cl" points="452.0,51.5 455.5,58.0 451.0,61.5 449.5,58.0" fill="#e1ff1e"/>
<ellipse class="cl" cx="449.0" cy="47.5" rx="1.5" ry="2.0" fill="#ff0c00"/>
<polygon class="cl" points="422.0,35.5 426.0,36.0 429.5,39.5 428.5,48.0 427.0,56.5 424.5,48.0 422.0,41.0" fill="#ff9500"/>
<ellipse class="cl" cx="416.5" cy="48.0" rx="0.5" ry="2.0" fill="#ff9500"/>
<ellipse class="cl" cx="422.5" cy="56.0" rx="0.5" ry="4.0" fill="#ff9500"/>
<ellipse class="cl" cx="425.5" cy="120.0" rx="5.2" ry="5.2" fill="#0046ff"/>
<ellipse class="cl" cx="425.5" cy="120.0" rx="2.4" ry="2.4" fill="#0000bd"/>
<ellipse class="cl" cx="408.5" cy="119.0" rx="1.6" ry="2.2" fill="#0046ff"/>
</g>
<text class="s lb" x="399.5" y="25.5" font-size="10.5" text-anchor="middle" fill="#000" transform="rotate(-60.0 399.5 25.5)" dy="3.8">6</text>
<text class="s lb" x="405.0" y="41.5" font-size="10.5" text-anchor="middle" fill="#000" transform="rotate(-85.0 405.0 41.5)" dy="3.8">8</text>
<text class="s lb" x="408.5" y="66.0" font-size="10.5" text-anchor="middle" fill="#000" transform="rotate(-88.0 408.5 66.0)" dy="3.8">10</text>
<text class="s lb" x="425.5" y="38.0" font-size="10.5" text-anchor="middle" fill="#000" transform="rotate(-70.0 425.5 38.0)" dy="3.8">12</text>
<text class="s lb" x="445.0" y="24.0" font-size="10.5" text-anchor="middle" fill="#000" transform="rotate(-50.0 445.0 24.0)" dy="3.8">10</text>
<text class="s lb" x="468.5" y="36.5" font-size="10.5" text-anchor="middle" fill="#000" transform="rotate(30.0 468.5 36.5)" dy="3.8">12</text>
<text class="s lb" x="454.0" y="70.0" font-size="10.5" text-anchor="middle" fill="#000" transform="rotate(-60.0 454.0 70.0)" dy="3.8">14</text>
<text class="s lb" x="446.0" y="84.0" font-size="10.5" text-anchor="middle" fill="#000" transform="rotate(-60.0 446.0 84.0)" dy="3.8">12</text>
<text class="s lb" x="474.0" y="78.5" font-size="10.5" text-anchor="middle" fill="#000" transform="rotate(-60.0 474.0 78.5)" dy="3.8">16</text>
<text class="s lb" x="488.0" y="91.0" font-size="10.5" text-anchor="middle" fill="#000" transform="rotate(-55.0 488.0 91.0)" dy="3.8">16</text>
<text class="s lb" x="400.0" y="104.0" font-size="10.5" text-anchor="middle" fill="#000" transform="rotate(-85.0 400.0 104.0)" dy="3.8">2</text>
<text class="s lb" x="404.5" y="113.0" font-size="10.5" text-anchor="middle" fill="#000" transform="rotate(-80.0 404.5 113.0)" dy="3.8">4</text>
<text class="s lb" x="408.5" y="119.0" font-size="10.5" text-anchor="middle" fill="#000" transform="rotate(-80.0 408.5 119.0)" dy="3.8">6</text>
<text class="s lb" x="425.5" y="119.5" font-size="10.5" text-anchor="middle" fill="#000" transform="rotate(-30.0 425.5 119.5)" dy="3.8">6</text>
<text class="s lb" x="412.0" y="147.5" font-size="10.5" text-anchor="middle" fill="#000" transform="rotate(-10.0 412.0 147.5)" dy="3.8">8</text>
<text class="s lb" x="428.5" y="152.0" font-size="10.5" text-anchor="middle" fill="#000" transform="rotate(-8.0 428.5 152.0)" dy="3.8">10</text>
<text class="s lb" x="416.5" y="158.0" font-size="10.5" text-anchor="middle" fill="#000" transform="rotate(-3.0 416.5 158.0)" dy="3.8">12</text>
<text class="s lb" x="467.0" y="157.0" font-size="10.5" text-anchor="middle" fill="#000" transform="rotate(-5.0 467.0 157.0)" dy="3.8">14</text>
<rect x="397.0" y="17.5" width="98.3" height="142.8" fill="none" stroke="#333" stroke-width="0.4" stroke-opacity="0.7"/>
<rect x="500.6" y="17.5" width="9.9" height="142.8" fill="url(#jet)" stroke="#333" stroke-width="0.4"/>
<line x1="509.0" y1="18.0" x2="510.5" y2="18.0" stroke="#333" stroke-width="0.5"/>
<text class="s" x="514.3" y="21.1" font-size="8.5" text-anchor="start" fill="#2a2a2a">16</text>
<line x1="509.0" y1="37.2" x2="510.5" y2="37.2" stroke="#333" stroke-width="0.5"/>
<text class="s" x="514.3" y="40.2" font-size="8.5" text-anchor="start" fill="#2a2a2a">14</text>
<line x1="509.0" y1="56.4" x2="510.5" y2="56.4" stroke="#333" stroke-width="0.5"/>
<text class="s" x="514.3" y="59.4" font-size="8.5" text-anchor="start" fill="#2a2a2a">12</text>
<line x1="509.0" y1="75.6" x2="510.5" y2="75.6" stroke="#333" stroke-width="0.5"/>
<text class="s" x="514.3" y="78.6" font-size="8.5" text-anchor="start" fill="#2a2a2a">10</text>
<line x1="509.0" y1="94.8" x2="510.5" y2="94.8" stroke="#333" stroke-width="0.5"/>
<text class="s" x="514.3" y="97.8" font-size="8.5" text-anchor="start" fill="#2a2a2a">8</text>
<line x1="509.0" y1="114.0" x2="510.5" y2="114.0" stroke="#333" stroke-width="0.5"/>
<text class="s" x="514.3" y="117.0" font-size="8.5" text-anchor="start" fill="#2a2a2a">6</text>
<line x1="509.0" y1="133.2" x2="510.5" y2="133.2" stroke="#333" stroke-width="0.5"/>
<text class="s" x="514.3" y="136.2" font-size="8.5" text-anchor="start" fill="#2a2a2a">4</text>
<line x1="509.0" y1="152.4" x2="510.5" y2="152.4" stroke="#333" stroke-width="0.5"/>
<text class="s" x="514.3" y="155.5" font-size="8.5" text-anchor="start" fill="#2a2a2a">2</text>
<text class="s" x="394.4" y="31.6" font-size="8.5" text-anchor="end" fill="#2a2a2a">160</text>
<text class="s" x="394.4" y="52.0" font-size="8.5" text-anchor="end" fill="#2a2a2a">150</text>
<text class="s" x="394.4" y="72.4" font-size="8.5" text-anchor="end" fill="#2a2a2a">140</text>
<text class="s" x="394.4" y="92.8" font-size="8.5" text-anchor="end" fill="#2a2a2a">130</text>
<text class="s" x="394.4" y="113.2" font-size="8.5" text-anchor="end" fill="#2a2a2a">120</text>
<text class="s" x="394.4" y="133.7" font-size="8.5" text-anchor="end" fill="#2a2a2a">110</text>
<text class="s" x="394.4" y="154.1" font-size="8.5" text-anchor="end" fill="#2a2a2a">100</text>
<text class="s" x="397.0" y="172.6" font-size="8.5" text-anchor="middle" fill="#2a2a2a">0</text>
<text class="s" x="424.8" y="172.6" font-size="8.5" text-anchor="middle" fill="#2a2a2a">10</text>
<text class="s" x="452.5" y="172.6" font-size="8.5" text-anchor="middle" fill="#2a2a2a">20</text>
<text class="s" x="480.2" y="172.6" font-size="8.5" text-anchor="middle" fill="#2a2a2a">30</text>
<g clip-path="url(#cpe)">
<rect x="215.7" y="198.8" width="98.0" height="143.0" fill="#000080"/>
<polygon points="223.0,196.8 221.0,215.0 218.0,231.0 213.7,245.0 213.7,343.8 315.7,343.8 315.7,196.8" fill="#0000ef"/>
<polyline class="cl" points="223.0,196.8 221.0,215.0 218.0,231.0 213.7,245.0"/>
<polygon points="228.0,196.8 227.5,215.0 226.0,235.0 224.3,246.0 222.0,255.0 219.0,263.0 213.7,269.0 213.7,343.8 315.7,343.8 315.7,196.8" fill="#0055ff"/>
<polyline class="cl" points="228.0,196.8 227.5,215.0 226.0,235.0 224.3,246.0 222.0,255.0 219.0,263.0 213.7,269.0"/>
<polygon points="234.4,196.8 232.5,215.0 231.0,235.0 229.5,246.0 227.0,255.0 223.0,266.0 218.0,279.0 213.7,285.0 213.7,343.8 315.7,343.8 315.7,196.8" fill="#00baff"/>
<polyline class="cl" points="234.4,196.8 232.5,215.0 231.0,235.0 229.5,246.0 227.0,255.0 223.0,266.0 218.0,279.0 213.7,285.0"/>
<polygon points="242.0,196.8 240.0,215.0 237.0,235.0 235.0,251.0 231.0,265.0 226.0,275.0 220.0,289.0 213.7,297.5 213.7,343.8 315.7,343.8 315.7,196.8" fill="#20ffdf"/>
<polyline class="cl" points="242.0,196.8 240.0,215.0 237.0,235.0 235.0,251.0 231.0,265.0 226.0,275.0 220.0,289.0 213.7,297.5"/>
<polygon points="250.0,196.8 249.0,215.0 246.0,235.0 243.5,255.0 241.0,267.0 237.5,278.0 231.0,288.0 223.5,298.0 213.7,308.0 213.7,343.8 315.7,343.8 315.7,196.8" fill="#85ff7a"/>
<polyline class="cl" points="250.0,196.8 249.0,215.0 246.0,235.0 243.5,255.0 241.0,267.0 237.5,278.0 231.0,288.0 223.5,298.0 213.7,308.0"/>
<polygon points="263.6,196.8 260.0,215.0 257.0,231.0 255.0,255.0 252.0,269.0 247.5,281.0 242.0,291.5 235.5,300.0 225.0,308.5 213.7,317.0 213.7,343.8 315.7,343.8 315.7,196.8" fill="#eaff15"/>
<polyline class="cl" points="263.6,196.8 260.0,215.0 257.0,231.0 255.0,255.0 252.0,269.0 247.5,281.0 242.0,291.5 235.5,300.0 225.0,308.5 213.7,317.0"/>
<polygon points="276.0,196.8 277.0,205.0 276.0,215.0 273.0,225.0 271.3,235.0 269.6,245.0 268.6,255.0 266.5,265.0 263.3,275.0 260.0,283.0 255.0,293.5 246.0,304.0 236.0,312.0 224.0,320.0 213.7,328.0 213.7,343.8 315.7,343.8 315.7,196.8" fill="#ffaf00"/>
<polyline class="cl" points="276.0,196.8 277.0,205.0 276.0,215.0 273.0,225.0 271.3,235.0 269.6,245.0 268.6,255.0 266.5,265.0 263.3,275.0 260.0,283.0 255.0,293.5 246.0,304.0 236.0,312.0 224.0,320.0 213.7,328.0"/>
<polygon points="279.0,196.8 280.5,203.0 296.0,208.3 296.7,214.0 297.0,219.0 295.0,225.0 292.5,232.0 291.0,239.0 288.7,245.0 286.3,255.0 284.3,265.0 283.3,275.0 282.0,283.5 276.0,295.5 270.0,306.0 262.0,314.0 252.0,322.0 240.0,328.0 228.0,333.0 233.0,343.8 315.7,343.8 315.7,196.8" fill="#ff4a00"/>
<polyline class="cl" points="279.0,196.8 280.5,203.0 296.0,208.3 296.7,214.0 297.0,219.0 295.0,225.0 292.5,232.0 291.0,239.0 288.7,245.0 286.3,255.0 284.3,265.0 283.3,275.0 282.0,283.5 276.0,295.5 270.0,306.0 262.0,314.0 252.0,322.0 240.0,328.0 228.0,333.0 233.0,343.8"/>
<polygon points="315.7,272.0 311.0,277.0 308.5,281.0 308.0,287.0 306.0,293.0 303.5,297.5 300.5,300.5 299.5,302.5 300.0,306.0 301.5,311.5 297.0,315.0 289.0,319.0 281.0,323.0 274.0,326.5 266.0,330.5 255.0,336.0 251.0,343.8 315.7,343.8" fill="#e40000"/>
<polyline class="cl" points="315.7,272.0 311.0,277.0 308.5,281.0 308.0,287.0 306.0,293.0 303.5,297.5 300.5,300.5 299.5,302.5 300.0,306.0 301.5,311.5 297.0,315.0 289.0,319.0 281.0,323.0 274.0,326.5 266.0,330.5 255.0,336.0 251.0,343.8"/>
<polygon points="296.0,196.8 304.0,201.3 315.7,203.5 315.7,196.8" fill="#e40000"/>
<polyline class="cl" points="296.0,196.8 304.0,201.3 315.7,203.5"/>
<polygon points="315.7,332.0 308.0,334.0 296.0,338.0 289.0,343.8 315.7,343.8" fill="#800000"/>
<polyline class="cl" points="315.7,332.0 308.0,334.0 296.0,338.0 289.0,343.8"/>
</g>
<text class="s lb" x="220.0" y="225.0" font-size="10.5" text-anchor="middle" fill="#000" transform="rotate(-78.0 220.0 225.0)" dy="3.8">-24</text>
<text class="s lb" x="225.0" y="240.0" font-size="10.5" text-anchor="middle" fill="#000" transform="rotate(-75.0 225.0 240.0)" dy="3.8">-22</text>
<text class="s lb" x="227.0" y="254.5" font-size="10.5" text-anchor="middle" fill="#000" transform="rotate(-72.0 227.0 254.5)" dy="3.8">-20</text>
<text class="s lb" x="230.0" y="268.0" font-size="10.5" text-anchor="middle" fill="#000" transform="rotate(-62.0 230.0 268.0)" dy="3.8">-18</text>
<text class="s lb" x="235.0" y="280.0" font-size="10.5" text-anchor="middle" fill="#000" transform="rotate(-52.0 235.0 280.0)" dy="3.8">-16</text>
<text class="s lb" x="240.5" y="292.0" font-size="10.5" text-anchor="middle" fill="#000" transform="rotate(-50.0 240.5 292.0)" dy="3.8">-14</text>
<text class="s lb" x="248.0" y="306.0" font-size="10.5" text-anchor="middle" fill="#000" transform="rotate(-40.0 248.0 306.0)" dy="3.8">-12</text>
<text class="s lb" x="259.0" y="316.0" font-size="10.5" text-anchor="middle" fill="#000" transform="rotate(-30.0 259.0 316.0)" dy="3.8">-10</text>
<text class="s lb" x="274.0" y="327.0" font-size="10.5" text-anchor="middle" fill="#000" transform="rotate(-20.0 274.0 327.0)" dy="3.8">-8</text>
<rect x="215.7" y="198.8" width="98.0" height="143.0" fill="none" stroke="#333" stroke-width="0.4" stroke-opacity="0.7"/>
<rect x="319.0" y="198.8" width="9.9" height="143.0" fill="url(#jet)" stroke="#333" stroke-width="0.4"/>
<line x1="327.4" y1="227.2" x2="328.9" y2="227.2" stroke="#333" stroke-width="0.5"/>
<text class="s" x="332.7" y="230.2" font-size="8.5" text-anchor="start" fill="#2a2a2a">-10</text>
<line x1="327.4" y1="262.7" x2="328.9" y2="262.7" stroke="#333" stroke-width="0.5"/>
<text class="s" x="332.7" y="265.8" font-size="8.5" text-anchor="start" fill="#2a2a2a">-15</text>
<line x1="327.4" y1="298.2" x2="328.9" y2="298.2" stroke="#333" stroke-width="0.5"/>
<text class="s" x="332.7" y="301.2" font-size="8.5" text-anchor="start" fill="#2a2a2a">-20</text>
<line x1="327.4" y1="333.5" x2="328.9" y2="333.5" stroke="#333" stroke-width="0.5"/>
<text class="s" x="332.7" y="336.6" font-size="8.5" text-anchor="start" fill="#2a2a2a">-25</text>
<text class="s" x="213.1" y="212.9" font-size="8.5" text-anchor="end" fill="#2a2a2a">160</text>
<text class="s" x="213.1" y="233.3" font-size="8.5" text-anchor="end" fill="#2a2a2a">150</text>
<text class="s" x="213.1" y="253.7" font-size="8.5" text-anchor="end" fill="#2a2a2a">140</text>
<text class="s" x="213.1" y="274.1" font-size="8.5" text-anchor="end" fill="#2a2a2a">130</text>
<text class="s" x="213.1" y="294.5" font-size="8.5" text-anchor="end" fill="#2a2a2a">120</text>
<text class="s" x="213.1" y="314.9" font-size="8.5" text-anchor="end" fill="#2a2a2a">110</text>
<text class="s" x="213.1" y="335.4" font-size="8.5" text-anchor="end" fill="#2a2a2a">100</text>
<text class="s" x="215.7" y="354.1" font-size="8.5" text-anchor="middle" fill="#2a2a2a">0</text>
<text class="s" x="243.4" y="354.1" font-size="8.5" text-anchor="middle" fill="#2a2a2a">10</text>
<text class="s" x="271.2" y="354.1" font-size="8.5" text-anchor="middle" fill="#2a2a2a">20</text>
<text class="s" x="298.9" y="354.1" font-size="8.5" text-anchor="middle" fill="#2a2a2a">30</text>
<g clip-path="url(#cpf)">
<rect x="397.0" y="198.8" width="98.3" height="143.0" fill="#0000d7"/>
<polygon points="395.0,196.8 406.0,196.8 404.0,206.0 402.0,213.0 400.5,219.0 399.0,225.0 395.0,229.0" fill="#000080"/>
<polygon points="399.0,236.0 403.0,233.0 406.0,238.0 405.0,243.0 401.0,245.0 398.5,242.0" fill="#000080"/>
<polygon points="395.0,262.0 400.0,268.0 402.0,280.0 401.0,292.0 399.0,300.0 395.0,304.0" fill="#000080"/>
<polygon points="411.5,196.8 409.5,206.0 409.0,209.0 413.5,213.0 415.0,219.0 414.5,226.0 416.0,231.0 417.0,238.0 415.5,243.0 409.0,250.0 407.0,256.0 408.0,263.5 410.2,253.5 415.0,261.5 412.5,269.0 414.5,277.0 417.0,285.0 418.5,293.0 419.3,297.0 418.0,301.0 415.0,305.0 410.0,308.5 404.0,312.5 400.0,314.5 395.0,315.5 395.0,343.8 497.3,343.8 497.3,196.8" fill="#0091ff"/>
<polyline class="cl" points="411.5,196.8 409.5,206.0 409.0,209.0 413.5,213.0 415.0,219.0 414.5,226.0 416.0,231.0 417.0,238.0 415.5,243.0 409.0,250.0 407.0,256.0 408.0,263.5 410.2,253.5 415.0,261.5 412.5,269.0 414.5,277.0 417.0,285.0 418.5,293.0 419.3,297.0 418.0,301.0 415.0,305.0 410.0,308.5 404.0,312.5 400.0,314.5 395.0,315.5"/>
<polygon points="430.5,196.8 430.0,204.0 431.5,209.0 432.5,216.0 433.0,226.0 433.0,232.0 431.5,238.0 430.0,243.0 428.5,249.0 429.5,256.0 430.0,262.0 428.0,272.0 430.8,277.5 432.5,263.5 437.5,272.0 433.0,280.0 434.5,288.0 436.0,293.0 437.0,300.0 436.5,307.0 434.0,312.0 430.0,313.0 427.5,308.5 422.0,312.5 416.0,316.5 409.0,320.5 405.5,322.5 403.0,320.0 395.0,320.0 395.0,343.8 497.3,343.8 497.3,196.8" fill="#4cffb3"/>
<polyline class="cl" points="430.5,196.8 430.0,204.0 431.5,209.0 432.5,216.0 433.0,226.0 433.0,232.0 431.5,238.0 430.0,243.0 428.5,249.0 429.5,256.0 430.0,262.0 428.0,272.0 430.8,277.5 432.5,263.5 437.5,272.0 433.0,280.0 434.5,288.0 436.0,293.0 437.0,300.0 436.5,307.0 434.0,312.0 430.0,313.0 427.5,308.5 422.0,312.5 416.0,316.5 409.0,320.5 405.5,322.5 403.0,320.0 395.0,320.0"/>
<polygon points="446.5,196.8 447.5,204.0 449.0,211.0 449.0,219.0 450.0,227.0 453.0,233.0 457.0,237.0 460.0,240.5 457.0,246.0 453.5,249.5 451.0,246.5 449.0,247.5 446.5,244.5 443.5,248.0 442.5,251.0 444.5,256.0 446.5,263.0 452.0,268.0 457.0,273.0 460.0,277.0 462.5,281.0 460.0,287.5 458.5,293.0 458.0,298.0 458.0,308.0 456.0,313.0 445.0,318.0 436.0,320.0 430.0,322.0 423.0,324.5 416.0,327.5 409.0,330.0 405.0,331.0 402.0,328.0 399.0,327.0 395.0,327.5 395.0,343.8 497.3,343.8 497.3,196.8" fill="#fff900"/>
<polyline class="cl" points="446.5,196.8 447.5,204.0 449.0,211.0 449.0,219.0 450.0,227.0 453.0,233.0 457.0,237.0 460.0,240.5 457.0,246.0 453.5,249.5 451.0,246.5 449.0,247.5 446.5,244.5 443.5,248.0 442.5,251.0 444.5,256.0 446.5,263.0 452.0,268.0 457.0,273.0 460.0,277.0 462.5,281.0 460.0,287.5 458.5,293.0 458.0,298.0 458.0,308.0 456.0,313.0 445.0,318.0 436.0,320.0 430.0,322.0 423.0,324.5 416.0,327.5 409.0,330.0 405.0,331.0 402.0,328.0 399.0,327.0 395.0,327.5"/>
<polygon points="461.0,196.8 462.0,205.0 471.0,209.0 473.0,213.0 477.0,219.0 472.0,223.0 466.0,229.0 470.0,233.0 475.0,236.0 478.0,240.5 480.0,243.0 483.5,249.0 479.0,253.0 475.0,256.0 468.0,261.0 470.0,268.0 475.0,272.5 477.0,271.5 481.0,274.0 487.0,280.0 489.0,278.0 490.0,283.0 494.0,290.5 490.0,297.0 483.0,302.0 484.5,310.0 479.0,317.0 477.0,324.0 471.0,325.5 460.0,328.0 451.0,328.7 443.0,331.5 431.0,335.0 423.0,336.5 417.0,337.5 413.0,337.0 408.0,339.0 403.0,337.5 401.0,334.0 395.0,333.0 395.0,343.8 497.3,343.8 497.3,196.8" fill="#ff4000"/>
<polyline class="cl" points="461.0,196.8 462.0,205.0 471.0,209.0 473.0,213.0 477.0,219.0 472.0,223.0 466.0,229.0 470.0,233.0 475.0,236.0 478.0,240.5 480.0,243.0 483.5,249.0 479.0,253.0 475.0,256.0 468.0,261.0 470.0,268.0 475.0,272.5 477.0,271.5 481.0,274.0 487.0,280.0 489.0,278.0 490.0,283.0 494.0,290.5 490.0,297.0 483.0,302.0 484.5,310.0 479.0,317.0 477.0,324.0 471.0,325.5 460.0,328.0 451.0,328.7 443.0,331.5 431.0,335.0 423.0,336.5 417.0,337.5 413.0,337.0 408.0,339.0 403.0,337.5 401.0,334.0 395.0,333.0"/>
<polygon points="473.0,196.8 478.0,202.0 485.0,203.0 489.0,205.0 492.0,207.0 490.5,212.0 491.5,216.0 491.0,222.0 492.0,229.0 492.5,236.0 493.5,243.0 497.3,246.0 497.3,196.8" fill="#850000"/>
<polyline class="cl" points="473.0,196.8 478.0,202.0 485.0,203.0 489.0,205.0 492.0,207.0 490.5,212.0 491.5,216.0 491.0,222.0 492.0,229.0 492.5,236.0 493.5,243.0 497.3,246.0"/>
<polygon points="459.0,343.8 462.0,338.5 466.5,337.0 471.5,335.5 474.5,340.5 478.0,337.5 487.0,332.0 497.3,329.0 497.3,343.8" fill="#850000"/>
<polyline class="cl" points="459.0,343.8 462.0,338.5 466.5,337.0 471.5,335.5 474.5,340.5 478.0,337.5 487.0,332.0 497.3,329.0"/>
<ellipse cx="409.5" cy="229.0" rx="0.9" ry="1.6" fill="#0091ff"/>
</g>
<text class="s lb" x="435.0" y="236.4" font-size="10.5" text-anchor="middle" fill="#000" transform="rotate(-80.0 435.0 236.4)" dy="3.8">6</text>
<text class="s lb" x="461.6" y="242.0" font-size="10.5" text-anchor="middle" fill="#000" transform="rotate(-80.0 461.6 242.0)" dy="3.8">8</text>
<text class="s lb" x="472.0" y="258.0" font-size="10.5" text-anchor="middle" fill="#000" transform="rotate(-38.0 472.0 258.0)" dy="3.8">10</text>
<text class="s lb" x="452.6" y="280.0" font-size="10.5" text-anchor="middle" fill="#000" transform="rotate(-95.0 452.6 280.0)" dy="3.8">8</text>
<text class="s lb" x="410.0" y="210.0" font-size="10.5" text-anchor="middle" fill="#000" transform="rotate(-60.0 410.0 210.0)" dy="3.8">4</text>
<text class="s lb" x="491.0" y="221.0" font-size="10.5" text-anchor="middle" fill="#000" transform="rotate(-82.0 491.0 221.0)" dy="3.8">12</text>
<text class="s lb" x="402.0" y="313.0" font-size="10.5" text-anchor="middle" fill="#000" transform="rotate(-10.0 402.0 313.0)" dy="3.8">4</text>
<text class="s lb" x="413.0" y="319.0" font-size="10.5" text-anchor="middle" fill="#000" transform="rotate(-15.0 413.0 319.0)" dy="3.8">6</text>
<text class="s lb" x="413.0" y="330.0" font-size="10.5" text-anchor="middle" fill="#000" transform="rotate(-5.0 413.0 330.0)" dy="3.8">8</text>
<text class="s lb" x="424.0" y="337.0" font-size="10.5" text-anchor="middle" fill="#000" transform="rotate(5.0 424.0 337.0)" dy="3.8">10</text>
<text class="s lb" x="452.0" y="339.0" font-size="10.5" text-anchor="middle" fill="#000" transform="rotate(0.0 452.0 339.0)" dy="3.8">12</text>
<rect x="397.0" y="198.8" width="98.3" height="143.0" fill="none" stroke="#333" stroke-width="0.4" stroke-opacity="0.7"/>
<rect x="500.6" y="198.8" width="9.9" height="143.0" fill="url(#jet)" stroke="#333" stroke-width="0.4"/>
<line x1="509.0" y1="199.6" x2="510.5" y2="199.6" stroke="#333" stroke-width="0.5"/>
<text class="s" x="514.3" y="202.7" font-size="8.5" text-anchor="start" fill="#2a2a2a">12</text>
<line x1="509.0" y1="225.6" x2="510.5" y2="225.6" stroke="#333" stroke-width="0.5"/>
<text class="s" x="514.3" y="228.7" font-size="8.5" text-anchor="start" fill="#2a2a2a">10</text>
<line x1="509.0" y1="251.6" x2="510.5" y2="251.6" stroke="#333" stroke-width="0.5"/>
<text class="s" x="514.3" y="254.7" font-size="8.5" text-anchor="start" fill="#2a2a2a">8</text>
<line x1="509.0" y1="277.6" x2="510.5" y2="277.6" stroke="#333" stroke-width="0.5"/>
<text class="s" x="514.3" y="280.7" font-size="8.5" text-anchor="start" fill="#2a2a2a">6</text>
<line x1="509.0" y1="303.6" x2="510.5" y2="303.6" stroke="#333" stroke-width="0.5"/>
<text class="s" x="514.3" y="306.7" font-size="8.5" text-anchor="start" fill="#2a2a2a">4</text>
<line x1="509.0" y1="329.6" x2="510.5" y2="329.6" stroke="#333" stroke-width="0.5"/>
<text class="s" x="514.3" y="332.7" font-size="8.5" text-anchor="start" fill="#2a2a2a">2</text>
<text class="s" x="394.4" y="212.9" font-size="8.5" text-anchor="end" fill="#2a2a2a">160</text>
<text class="s" x="394.4" y="233.3" font-size="8.5" text-anchor="end" fill="#2a2a2a">150</text>
<text class="s" x="394.4" y="253.7" font-size="8.5" text-anchor="end" fill="#2a2a2a">140</text>
<text class="s" x="394.4" y="274.1" font-size="8.5" text-anchor="end" fill="#2a2a2a">130</text>
<text class="s" x="394.4" y="294.5" font-size="8.5" text-anchor="end" fill="#2a2a2a">120</text>
<text class="s" x="394.4" y="314.9" font-size="8.5" text-anchor="end" fill="#2a2a2a">110</text>
<text class="s" x="394.4" y="335.4" font-size="8.5" text-anchor="end" fill="#2a2a2a">100</text>
<text class="s" x="397.0" y="354.1" font-size="8.5" text-anchor="middle" fill="#2a2a2a">0</text>
<text class="s" x="424.8" y="354.1" font-size="8.5" text-anchor="middle" fill="#2a2a2a">10</text>
<text class="s" x="452.5" y="354.1" font-size="8.5" text-anchor="middle" fill="#2a2a2a">20</text>
<text class="s" x="480.2" y="354.1" font-size="8.5" text-anchor="middle" fill="#2a2a2a">30</text>
<g clip-path="url(#cpg)">
<rect x="33.8" y="380.7" width="93.7" height="143.8" fill="#000080"/>
<polygon points="31.8,464.2 129.5,463.8 129.5,378.7 31.8,378.7" fill="#0000c9"/>
<polyline class="cl" points="31.8,464.2 129.5,463.8"/>
<polygon points="31.8,435.2 129.5,434.6 129.5,378.7 31.8,378.7" fill="#0033ff"/>
<polyline class="cl" points="31.8,435.2 129.5,434.6"/>
<polygon points="31.8,419.4 129.5,418.8 129.5,378.7 31.8,378.7" fill="#009cff"/>
<polyline class="cl" points="31.8,419.4 129.5,418.8"/>
<polygon points="31.8,408.8 129.5,407.9 129.5,378.7 31.8,378.7" fill="#07fff8"/>
<polyline class="cl" points="31.8,408.8 129.5,407.9"/>
<polygon points="31.8,401.2 129.5,400.4 129.5,378.7 31.8,378.7" fill="#70ff8f"/>
<polyline class="cl" points="31.8,401.2 129.5,400.4"/>
<polygon points="31.8,396.0 129.5,395.4 129.5,378.7 31.8,378.7" fill="#d9ff26"/>
<polyline class="cl" points="31.8,396.0 129.5,395.4"/>
<polygon points="31.8,391.4 129.5,391.0 129.5,378.7 31.8,378.7" fill="#ffbc00"/>
<polyline class="cl" points="31.8,391.4 129.5,391.0"/>
<polygon points="31.8,388.6 129.5,388.4 129.5,378.7 31.8,378.7" fill="#ff5300"/>
<polyline class="cl" points="31.8,388.6 129.5,388.4"/>
<polygon points="31.8,386.1 129.5,386.0 129.5,378.7 31.8,378.7" fill="#e90000"/>
<polyline class="cl" points="31.8,386.1 129.5,386.0"/>
<polygon points="31.8,383.2 129.5,383.1 129.5,378.7 31.8,378.7" fill="#800000"/>
<polyline class="cl" points="31.8,383.2 129.5,383.1"/>
</g>
<text class="s lb" x="68.0" y="382.6" font-size="10.5" text-anchor="middle" fill="#000" transform="rotate(0.0 68.0 382.6)" dy="3.8">1.2</text>
<text class="s lb" x="68.0" y="385.8" font-size="10.5" text-anchor="middle" fill="#000" transform="rotate(0.0 68.0 385.8)" dy="3.8">1.1</text>
<text class="s lb" x="68.0" y="388.6" font-size="10.5" text-anchor="middle" fill="#000" transform="rotate(0.0 68.0 388.6)" dy="3.8">1</text>
<text class="s lb" x="68.0" y="391.5" font-size="10.5" text-anchor="middle" fill="#000" transform="rotate(0.0 68.0 391.5)" dy="3.8">0.9</text>
<text class="s lb" x="68.0" y="396.0" font-size="10.5" text-anchor="middle" fill="#000" transform="rotate(0.0 68.0 396.0)" dy="3.8">0.8</text>
<text class="s lb" x="68.0" y="401.3" font-size="10.5" text-anchor="middle" fill="#000" transform="rotate(0.0 68.0 401.3)" dy="3.8">0.7</text>
<text class="s lb" x="68.0" y="409.0" font-size="10.5" text-anchor="middle" fill="#000" transform="rotate(0.0 68.0 409.0)" dy="3.8">0.6</text>
<text class="s lb" x="68.0" y="420.0" font-size="10.5" text-anchor="middle" fill="#000" transform="rotate(0.0 68.0 420.0)" dy="3.8">0.5</text>
<text class="s lb" x="68.0" y="436.0" font-size="10.5" text-anchor="middle" fill="#000" transform="rotate(0.0 68.0 436.0)" dy="3.8">0.4</text>
<text class="s lb" x="68.0" y="466.0" font-size="10.5" text-anchor="middle" fill="#000" transform="rotate(0.0 68.0 466.0)" dy="3.8">0.3</text>
<rect x="33.8" y="380.7" width="93.7" height="143.8" fill="none" stroke="#333" stroke-width="0.4" stroke-opacity="0.7"/>
<rect x="137.9" y="380.7" width="9.8" height="143.8" fill="url(#jet)" stroke="#333" stroke-width="0.4"/>
<line x1="146.2" y1="380.9" x2="147.7" y2="380.9" stroke="#333" stroke-width="0.5"/>
<text class="s" x="151.5" y="383.9" font-size="8.5" text-anchor="start" fill="#2a2a2a">1.2</text>
<line x1="146.2" y1="410.6" x2="147.7" y2="410.6" stroke="#333" stroke-width="0.5"/>
<text class="s" x="151.5" y="413.6" font-size="8.5" text-anchor="start" fill="#2a2a2a">1</text>
<line x1="146.2" y1="440.3" x2="147.7" y2="440.3" stroke="#333" stroke-width="0.5"/>
<text class="s" x="151.5" y="443.3" font-size="8.5" text-anchor="start" fill="#2a2a2a">0.8</text>
<line x1="146.2" y1="470.0" x2="147.7" y2="470.0" stroke="#333" stroke-width="0.5"/>
<text class="s" x="151.5" y="473.1" font-size="8.5" text-anchor="start" fill="#2a2a2a">0.6</text>
<line x1="146.2" y1="499.7" x2="147.7" y2="499.7" stroke="#333" stroke-width="0.5"/>
<text class="s" x="151.5" y="502.8" font-size="8.5" text-anchor="start" fill="#2a2a2a">0.4</text>
<text class="s" x="31.2" y="394.6" font-size="8.5" text-anchor="end" fill="#2a2a2a">160</text>
<text class="s" x="31.2" y="415.1" font-size="8.5" text-anchor="end" fill="#2a2a2a">150</text>
<text class="s" x="31.2" y="435.7" font-size="8.5" text-anchor="end" fill="#2a2a2a">140</text>
<text class="s" x="31.2" y="456.3" font-size="8.5" text-anchor="end" fill="#2a2a2a">130</text>
<text class="s" x="31.2" y="476.8" font-size="8.5" text-anchor="end" fill="#2a2a2a">120</text>
<text class="s" x="31.2" y="497.4" font-size="8.5" text-anchor="end" fill="#2a2a2a">110</text>
<text class="s" x="31.2" y="518.0" font-size="8.5" text-anchor="end" fill="#2a2a2a">100</text>
<text class="s" x="33.8" y="534.8" font-size="8.5" text-anchor="middle" fill="#2a2a2a">3</text>
<text class="s" x="57.2" y="534.8" font-size="8.5" text-anchor="middle" fill="#2a2a2a">5</text>
<text class="s" x="80.6" y="534.8" font-size="8.5" text-anchor="middle" fill="#2a2a2a">7</text>
<text class="s" x="104.1" y="534.8" font-size="8.5" text-anchor="middle" fill="#2a2a2a">9</text>
<text class="s" x="127.5" y="534.8" font-size="8.5" text-anchor="middle" fill="#2a2a2a">11</text>
<g clip-path="url(#cph)">
<rect x="210.4" y="380.7" width="98.2" height="143.8" fill="#000080"/>
<polygon points="208.4,519.0 232.0,521.5 254.0,523.2 284.0,525.5 310.6,526.0 310.6,378.7 208.4,378.7" fill="#0000bf"/>
<polyline class="cl" points="208.4,519.0 232.0,521.5 254.0,523.2 284.0,525.5 310.6,526.0"/>
<polygon points="208.4,508.0 232.0,509.6 254.0,510.6 284.0,511.6 310.6,512.0 310.6,378.7 208.4,378.7" fill="#0060ff"/>
<polyline class="cl" points="208.4,508.0 232.0,509.6 254.0,510.6 284.0,511.6 310.6,512.0"/>
<polygon points="208.4,493.6 232.0,496.4 254.0,498.0 284.0,499.0 310.6,499.2 310.6,378.7 208.4,378.7" fill="#00ffff"/>
<polyline class="cl" points="208.4,493.6 232.0,496.4 254.0,498.0 284.0,499.0 310.6,499.2"/>
<polygon points="208.4,479.6 232.0,480.8 254.0,481.6 284.0,482.4 310.6,482.6 310.6,378.7 208.4,378.7" fill="#9fff60"/>
<polyline class="cl" points="208.4,479.6 232.0,480.8 254.0,481.6 284.0,482.4 310.6,482.6"/>
<polygon points="208.4,457.4 232.0,458.4 254.0,459.0 284.0,460.0 310.6,460.0 310.6,378.7 208.4,378.7" fill="#ffbf00"/>
<polyline class="cl" points="208.4,457.4 232.0,458.4 254.0,459.0 284.0,460.0 310.6,460.0"/>
<polygon points="208.4,430.4 232.0,431.5 254.0,432.3 284.0,432.2 310.6,432.0 310.6,378.7 208.4,378.7" fill="#ff2000"/>
<polyline class="cl" points="208.4,430.4 232.0,431.5 254.0,432.3 284.0,432.2 310.6,432.0"/>
<polygon points="208.4,389.0 232.0,390.6 254.0,391.6 284.0,391.6 310.6,391.6 310.6,378.7 208.4,378.7" fill="#800000"/>
<polyline class="cl" points="208.4,389.0 232.0,390.6 254.0,391.6 284.0,391.6 310.6,391.6"/>
</g>
<text class="s lb" x="254.0" y="391.6" font-size="10.5" text-anchor="middle" fill="#000" transform="rotate(0.0 254.0 391.6)" dy="3.8">-8</text>
<text class="s lb" x="254.0" y="433.0" font-size="10.5" text-anchor="middle" fill="#000" transform="rotate(0.0 254.0 433.0)" dy="3.8">-10</text>
<text class="s lb" x="254.0" y="460.0" font-size="10.5" text-anchor="middle" fill="#000" transform="rotate(0.0 254.0 460.0)" dy="3.8">-12</text>
<text class="s lb" x="254.0" y="482.5" font-size="10.5" text-anchor="middle" fill="#000" transform="rotate(0.0 254.0 482.5)" dy="3.8">-14</text>
<text class="s lb" x="254.0" y="498.5" font-size="10.5" text-anchor="middle" fill="#000" transform="rotate(0.0 254.0 498.5)" dy="3.8">-16</text>
<text class="s lb" x="254.0" y="511.5" font-size="10.5" text-anchor="middle" fill="#000" transform="rotate(0.0 254.0 511.5)" dy="3.8">-18</text>
<text class="s lb" x="254.0" y="523.5" font-size="10.5" text-anchor="middle" fill="#000" transform="rotate(0.0 254.0 523.5)" dy="3.8">-20</text>
<rect x="210.4" y="380.7" width="98.2" height="143.8" fill="none" stroke="#333" stroke-width="0.4" stroke-opacity="0.7"/>
<rect x="319.0" y="380.7" width="10.0" height="143.8" fill="url(#jet)" stroke="#333" stroke-width="0.4"/>
<line x1="327.5" y1="380.6" x2="329.0" y2="380.6" stroke="#333" stroke-width="0.5"/>
<text class="s" x="332.8" y="383.7" font-size="8.5" text-anchor="start" fill="#2a2a2a">-8</text>
<line x1="327.5" y1="403.1" x2="329.0" y2="403.1" stroke="#333" stroke-width="0.5"/>
<text class="s" x="332.8" y="406.2" font-size="8.5" text-anchor="start" fill="#2a2a2a">-10</text>
<line x1="327.5" y1="425.6" x2="329.0" y2="425.6" stroke="#333" stroke-width="0.5"/>
<text class="s" x="332.8" y="428.7" font-size="8.5" text-anchor="start" fill="#2a2a2a">-12</text>
<line x1="327.5" y1="448.1" x2="329.0" y2="448.1" stroke="#333" stroke-width="0.5"/>
<text class="s" x="332.8" y="451.2" font-size="8.5" text-anchor="start" fill="#2a2a2a">-14</text>
<line x1="327.5" y1="470.6" x2="329.0" y2="470.6" stroke="#333" stroke-width="0.5"/>
<text class="s" x="332.8" y="473.7" font-size="8.5" text-anchor="start" fill="#2a2a2a">-16</text>
<line x1="327.5" y1="493.1" x2="329.0" y2="493.1" stroke="#333" stroke-width="0.5"/>
<text class="s" x="332.8" y="496.2" font-size="8.5" text-anchor="start" fill="#2a2a2a">-18</text>
<line x1="327.5" y1="515.6" x2="329.0" y2="515.6" stroke="#333" stroke-width="0.5"/>
<text class="s" x="332.8" y="518.6" font-size="8.5" text-anchor="start" fill="#2a2a2a">-20</text>
<text class="s" x="207.8" y="383.7" font-size="8.5" text-anchor="end" fill="#2a2a2a">35</text>
<text class="s" x="207.8" y="404.2" font-size="8.5" text-anchor="end" fill="#2a2a2a">30</text>
<text class="s" x="207.8" y="424.7" font-size="8.5" text-anchor="end" fill="#2a2a2a">25</text>
<text class="s" x="207.8" y="445.2" font-size="8.5" text-anchor="end" fill="#2a2a2a">20</text>
<text class="s" x="207.8" y="465.7" font-size="8.5" text-anchor="end" fill="#2a2a2a">15</text>
<text class="s" x="207.8" y="486.2" font-size="8.5" text-anchor="end" fill="#2a2a2a">10</text>
<text class="s" x="207.8" y="506.7" font-size="8.5" text-anchor="end" fill="#2a2a2a">5</text>
<text class="s" x="207.8" y="527.1" font-size="8.5" text-anchor="end" fill="#2a2a2a">0</text>
<text class="s" x="210.4" y="534.8" font-size="8.5" text-anchor="middle" fill="#2a2a2a">3</text>
<text class="s" x="235.0" y="534.8" font-size="8.5" text-anchor="middle" fill="#2a2a2a">5</text>
<text class="s" x="259.5" y="534.8" font-size="8.5" text-anchor="middle" fill="#2a2a2a">7</text>
<text class="s" x="284.1" y="534.8" font-size="8.5" text-anchor="middle" fill="#2a2a2a">9</text>
<text class="s" x="308.6" y="534.8" font-size="8.5" text-anchor="middle" fill="#2a2a2a">11</text>
<g clip-path="url(#cpi)">
<rect x="392.0" y="380.7" width="98.6" height="143.8" fill="#d70000"/>
<polygon points="398.5,378.7 397.5,386.0 395.0,392.0 393.5,398.0 393.0,406.0 393.5,416.0 392.5,421.0 390.0,423.0 390.0,526.5 492.6,526.5 492.6,378.7" fill="#ff2f00"/>
<polyline class="cl" points="398.5,378.7 397.5,386.0 395.0,392.0 393.5,398.0 393.0,406.0 393.5,416.0 392.5,421.0 390.0,423.0"/>
<polygon points="406.0,378.7 404.5,386.0 402.5,392.0 401.0,398.0 400.0,406.0 398.0,414.0 395.0,421.0 393.5,426.0 392.5,431.0 390.0,436.0 390.0,526.5 492.6,526.5 492.6,378.7" fill="#ff8600"/>
<polyline class="cl" points="406.0,378.7 404.5,386.0 402.5,392.0 401.0,398.0 400.0,406.0 398.0,414.0 395.0,421.0 393.5,426.0 392.5,431.0 390.0,436.0"/>
<polygon points="413.0,378.7 412.0,386.0 409.5,392.0 408.0,399.0 407.0,406.0 405.0,414.0 402.0,420.0 400.0,426.0 398.5,431.0 397.0,440.0 395.0,448.0 390.0,457.0 390.0,526.5 492.6,526.5 492.6,378.7" fill="#ffdd00"/>
<polyline class="cl" points="413.0,378.7 412.0,386.0 409.5,392.0 408.0,399.0 407.0,406.0 405.0,414.0 402.0,420.0 400.0,426.0 398.5,431.0 397.0,440.0 395.0,448.0 390.0,457.0"/>
<polygon points="492.6,394.0 440.0,393.0 418.0,392.0 416.5,393.5 414.0,400.0 412.5,406.0 410.5,414.0 408.0,421.0 406.0,426.0 404.0,431.0 403.0,440.0 401.0,450.0 397.0,460.0 394.0,466.0 390.0,472.0 390.0,526.5 492.6,526.5" fill="#caff35"/>
<polyline class="cl" points="492.6,394.0 440.0,393.0 418.0,392.0 416.5,393.5 414.0,400.0 412.5,406.0 410.5,414.0 408.0,421.0 406.0,426.0 404.0,431.0 403.0,440.0 401.0,450.0 397.0,460.0 394.0,466.0 390.0,472.0"/>
<polygon points="492.6,420.0 465.0,417.5 442.0,416.0 423.0,416.5 421.0,418.0 417.0,423.0 414.0,428.0 412.5,431.0 409.0,440.0 407.0,450.0 403.0,460.0 398.0,472.0 395.0,482.0 390.0,492.0 390.0,526.5 492.6,526.5" fill="#72ff8d"/>
<polyline class="cl" points="492.6,420.0 465.0,417.5 442.0,416.0 423.0,416.5 421.0,418.0 417.0,423.0 414.0,428.0 412.5,431.0 409.0,440.0 407.0,450.0 403.0,460.0 398.0,472.0 395.0,482.0 390.0,492.0"/>
<polygon points="492.6,435.0 459.0,433.5 458.5,432.4 442.0,432.0 426.0,432.4 420.0,436.0 414.0,441.0 412.0,448.0 409.0,458.0 405.0,470.0 401.0,482.0 397.0,494.0 394.0,502.0 390.0,507.0 390.0,526.5 492.6,526.5" fill="#1bffe4"/>
<polyline class="cl" points="492.6,435.0 459.0,433.5 458.5,432.4 442.0,432.0 426.0,432.4 420.0,436.0 414.0,441.0 412.0,448.0 409.0,458.0 405.0,470.0 401.0,482.0 397.0,494.0 394.0,502.0 390.0,507.0"/>
<polygon points="492.6,455.6 465.0,455.0 442.0,454.4 420.0,454.4 417.0,457.0 414.0,462.0 410.0,472.0 407.0,482.0 403.0,492.0 399.0,502.0 395.0,508.0 390.0,511.0 390.0,526.5 492.6,526.5" fill="#00c3ff"/>
<polyline class="cl" points="492.6,455.6 465.0,455.0 442.0,454.4 420.0,454.4 417.0,457.0 414.0,462.0 410.0,472.0 407.0,482.0 403.0,492.0 399.0,502.0 395.0,508.0 390.0,511.0"/>
<polygon points="492.6,469.6 465.0,469.0 442.0,468.0 420.0,468.6 416.0,471.0 413.0,477.0 411.0,484.0 408.0,494.0 405.0,502.0 400.0,507.0 395.0,511.0 390.0,514.0 390.0,526.5 492.6,526.5" fill="#006cff"/>
<polyline class="cl" points="492.6,469.6 465.0,469.0 442.0,468.0 420.0,468.6 416.0,471.0 413.0,477.0 411.0,484.0 408.0,494.0 405.0,502.0 400.0,507.0 395.0,511.0 390.0,514.0"/>
<polygon points="492.6,486.4 465.0,486.0 442.0,485.0 420.0,485.0 416.0,487.0 414.0,492.0 412.0,500.0 410.0,506.0 405.0,510.0 398.0,514.0 390.0,516.6 390.0,526.5 492.6,526.5" fill="#0015ff"/>
<polyline class="cl" points="492.6,486.4 465.0,486.0 442.0,485.0 420.0,485.0 416.0,487.0 414.0,492.0 412.0,500.0 410.0,506.0 405.0,510.0 398.0,514.0 390.0,516.6"/>
<polygon points="492.6,500.4 465.0,500.0 442.0,499.0 420.0,499.0 416.0,501.0 415.0,506.0 413.0,511.0 406.0,514.0 398.0,517.0 390.0,519.0 390.0,526.5 492.6,526.5" fill="#0000bd"/>
<polyline class="cl" points="492.6,500.4 465.0,500.0 442.0,499.0 420.0,499.0 416.0,501.0 415.0,506.0 413.0,511.0 406.0,514.0 398.0,517.0 390.0,519.0"/>
<polygon points="492.6,513.6 465.0,513.0 442.0,511.8 420.0,512.4 414.0,515.0 406.0,518.0 398.0,520.0 390.0,521.6 390.0,526.5 492.6,526.5" fill="#000080"/>
<polyline class="cl" points="492.6,513.6 465.0,513.0 442.0,511.8 420.0,512.4 414.0,515.0 406.0,518.0 398.0,520.0 390.0,521.6"/>
</g>
<text class="s lb" x="399.0" y="405.0" font-size="10.5" text-anchor="middle" fill="#000" transform="rotate(-68.0 399.0 405.0)" dy="3.8">13</text>
<text class="s lb" x="403.0" y="415.0" font-size="10.5" text-anchor="middle" fill="#000" transform="rotate(-68.0 403.0 415.0)" dy="3.8">12</text>
<text class="s lb" x="415.0" y="400.0" font-size="10.5" text-anchor="middle" fill="#000" transform="rotate(-62.0 415.0 400.0)" dy="3.8">11</text>
<text class="s lb" x="418.0" y="421.0" font-size="10.5" text-anchor="middle" fill="#000" transform="rotate(-52.0 418.0 421.0)" dy="3.8">10</text>
<text class="s lb" x="416.0" y="440.0" font-size="10.5" text-anchor="middle" fill="#000" transform="rotate(-55.0 416.0 440.0)" dy="3.8">9</text>
<text class="s lb" x="416.6" y="458.0" font-size="10.5" text-anchor="middle" fill="#000" transform="rotate(-50.0 416.6 458.0)" dy="3.8">8</text>
<text class="s lb" x="418.0" y="471.0" font-size="10.5" text-anchor="middle" fill="#000" transform="rotate(-20.0 418.0 471.0)" dy="3.8">7</text>
<text class="s lb" x="424.0" y="485.6" font-size="10.5" text-anchor="middle" fill="#000" transform="rotate(-5.0 424.0 485.6)" dy="3.8">6</text>
<text class="s lb" x="428.6" y="500.0" font-size="10.5" text-anchor="middle" fill="#000" transform="rotate(-5.0 428.6 500.0)" dy="3.8">5</text>
<text class="s lb" x="440.0" y="513.0" font-size="10.5" text-anchor="middle" fill="#000" transform="rotate(0.0 440.0 513.0)" dy="3.8">4</text>
<rect x="392.0" y="380.7" width="98.6" height="143.8" fill="none" stroke="#333" stroke-width="0.4" stroke-opacity="0.7"/>
<rect x="500.0" y="380.7" width="11.0" height="143.8" fill="url(#jet)" stroke="#333" stroke-width="0.4"/>
<line x1="509.5" y1="393.0" x2="511.0" y2="393.0" stroke="#333" stroke-width="0.5"/>
<text class="s" x="515.5" y="396.1" font-size="8.5" text-anchor="start" fill="#2a2a2a">14</text>
<line x1="509.5" y1="417.7" x2="511.0" y2="417.7" stroke="#333" stroke-width="0.5"/>
<text class="s" x="515.5" y="420.7" font-size="8.5" text-anchor="start" fill="#2a2a2a">12</text>
<line x1="509.5" y1="442.3" x2="511.0" y2="442.3" stroke="#333" stroke-width="0.5"/>
<text class="s" x="515.5" y="445.4" font-size="8.5" text-anchor="start" fill="#2a2a2a">10</text>
<line x1="509.5" y1="467.0" x2="511.0" y2="467.0" stroke="#333" stroke-width="0.5"/>
<text class="s" x="515.5" y="470.0" font-size="8.5" text-anchor="start" fill="#2a2a2a">8</text>
<line x1="509.5" y1="491.6" x2="511.0" y2="491.6" stroke="#333" stroke-width="0.5"/>
<text class="s" x="515.5" y="494.7" font-size="8.5" text-anchor="start" fill="#2a2a2a">6</text>
<line x1="509.5" y1="516.3" x2="511.0" y2="516.3" stroke="#333" stroke-width="0.5"/>
<text class="s" x="515.5" y="519.3" font-size="8.5" text-anchor="start" fill="#2a2a2a">4</text>
<text class="s" x="389.4" y="383.7" font-size="8.5" text-anchor="end" fill="#2a2a2a">35</text>
<text class="s" x="389.4" y="404.2" font-size="8.5" text-anchor="end" fill="#2a2a2a">30</text>
<text class="s" x="389.4" y="424.7" font-size="8.5" text-anchor="end" fill="#2a2a2a">25</text>
<text class="s" x="389.4" y="445.2" font-size="8.5" text-anchor="end" fill="#2a2a2a">20</text>
<text class="s" x="389.4" y="465.7" font-size="8.5" text-anchor="end" fill="#2a2a2a">15</text>
<text class="s" x="389.4" y="486.2" font-size="8.5" text-anchor="end" fill="#2a2a2a">10</text>
<text class="s" x="389.4" y="506.7" font-size="8.5" text-anchor="end" fill="#2a2a2a">5</text>
<text class="s" x="389.4" y="527.1" font-size="8.5" text-anchor="end" fill="#2a2a2a">0</text>
<text class="s" x="392.0" y="534.8" font-size="8.5" text-anchor="middle" fill="#2a2a2a">3</text>
<text class="s" x="416.6" y="534.8" font-size="8.5" text-anchor="middle" fill="#2a2a2a">5</text>
<text class="s" x="441.3" y="534.8" font-size="8.5" text-anchor="middle" fill="#2a2a2a">7</text>
<text class="s" x="465.9" y="534.8" font-size="8.5" text-anchor="middle" fill="#2a2a2a">9</text>
<text class="s" x="490.6" y="534.8" font-size="8.5" text-anchor="middle" fill="#2a2a2a">11</text>
<text class="r" x="83.0" y="12.4" font-size="9.0" text-anchor="middle" fill="#333333" textLength="50.5" lengthAdjust="spacingAndGlyphs">FWHM [mm]</text>
<text class="r" x="83.0" y="194.2" font-size="9.0" text-anchor="middle" fill="#333333" textLength="50.5" lengthAdjust="spacingAndGlyphs">FWHM [mm]</text>
<text class="r" x="264.8" y="12.4" font-size="9.0" text-anchor="middle" fill="#333333" textLength="43.2" lengthAdjust="spacingAndGlyphs">PSMR [dB]</text>
<text class="r" x="264.8" y="194.2" font-size="9.0" text-anchor="middle" fill="#333333" textLength="43.2" lengthAdjust="spacingAndGlyphs">PSMR [dB]</text>
<text class="r" x="445.6" y="12.4" font-size="9.0" text-anchor="middle" fill="#333333" textLength="43.6" lengthAdjust="spacingAndGlyphs">SMER [dB]</text>
<text class="r" x="445.6" y="194.2" font-size="9.0" text-anchor="middle" fill="#333333" textLength="43.6" lengthAdjust="spacingAndGlyphs">SMER [dB]</text>
<text class="r" x="81.0" y="376.2" font-size="10.0" text-anchor="middle" fill="#333333" textLength="54.7" lengthAdjust="spacingAndGlyphs">FWHM [mm]</text>
<text class="r" x="259.8" y="376.2" font-size="10.0" text-anchor="middle" fill="#333333" textLength="46.4" lengthAdjust="spacingAndGlyphs">PSMR [dB]</text>
<text class="r" x="441.0" y="376.2" font-size="10.0" text-anchor="middle" fill="#333333" textLength="46.0" lengthAdjust="spacingAndGlyphs">SMER [dB]</text>
<text class="r" x="82.8" y="183.4" font-size="9.0" text-anchor="middle" fill="#5a5a5a" textLength="34.6" lengthAdjust="spacingAndGlyphs">gap [mm]</text>
<text class="r" x="82.8" y="363.2" font-size="9.0" text-anchor="middle" fill="#5a5a5a" textLength="34.6" lengthAdjust="spacingAndGlyphs">gap [mm]</text>
<text class="r" x="264.7" y="183.4" font-size="9.0" text-anchor="middle" fill="#5a5a5a" textLength="34.6" lengthAdjust="spacingAndGlyphs">gap [mm]</text>
<text class="r" x="264.7" y="363.2" font-size="9.0" text-anchor="middle" fill="#5a5a5a" textLength="34.6" lengthAdjust="spacingAndGlyphs">gap [mm]</text>
<text class="r" x="446.2" y="183.4" font-size="9.0" text-anchor="middle" fill="#5a5a5a" textLength="34.6" lengthAdjust="spacingAndGlyphs">gap [mm]</text>
<text class="r" x="446.2" y="363.2" font-size="9.0" text-anchor="middle" fill="#5a5a5a" textLength="34.6" lengthAdjust="spacingAndGlyphs">gap [mm]</text>
<text class="r" x="81.0" y="545.6" font-size="10.5" text-anchor="middle" fill="#5a5a5a" textLength="38.7" lengthAdjust="spacingAndGlyphs">No.<tspan dx="2"> PWs</tspan></text>
<text class="r" x="259.5" y="545.6" font-size="10.5" text-anchor="middle" fill="#5a5a5a" textLength="38.7" lengthAdjust="spacingAndGlyphs">No.<tspan dx="2"> PWs</tspan></text>
<text class="r" x="441.3" y="545.6" font-size="10.5" text-anchor="middle" fill="#5a5a5a" textLength="38.7" lengthAdjust="spacingAndGlyphs">No.<tspan dx="2"> PWs</tspan></text>
<text class="r" x="13.2" y="89.0" font-size="10.0" text-anchor="middle" fill="#5a5a5a" transform="rotate(-90.0 13.2 89.0)" textLength="15.5" lengthAdjust="spacingAndGlyphs"><tspan font-style="italic">θ</tspan> [°]</text>
<text class="r" x="194.9" y="89.0" font-size="10.0" text-anchor="middle" fill="#5a5a5a" transform="rotate(-90.0 194.9 89.0)" textLength="15.5" lengthAdjust="spacingAndGlyphs"><tspan font-style="italic">θ</tspan> [°]</text>
<text class="r" x="376.2" y="89.0" font-size="10.0" text-anchor="middle" fill="#5a5a5a" transform="rotate(-90.0 376.2 89.0)" textLength="15.5" lengthAdjust="spacingAndGlyphs"><tspan font-style="italic">θ</tspan> [°]</text>
<text class="r" x="13.2" y="270.3" font-size="10.0" text-anchor="middle" fill="#5a5a5a" transform="rotate(-90.0 13.2 270.3)" textLength="15.5" lengthAdjust="spacingAndGlyphs"><tspan font-style="italic">θ</tspan> [°]</text>
<text class="r" x="194.9" y="270.3" font-size="10.0" text-anchor="middle" fill="#5a5a5a" transform="rotate(-90.0 194.9 270.3)" textLength="15.5" lengthAdjust="spacingAndGlyphs"><tspan font-style="italic">θ</tspan> [°]</text>
<text class="r" x="376.2" y="270.3" font-size="10.0" text-anchor="middle" fill="#5a5a5a" transform="rotate(-90.0 376.2 270.3)" textLength="15.5" lengthAdjust="spacingAndGlyphs"><tspan font-style="italic">θ</tspan> [°]</text>
<text class="r" x="13.2" y="452.6" font-size="10.0" text-anchor="middle" fill="#5a5a5a" transform="rotate(-90.0 13.2 452.6)" textLength="15.5" lengthAdjust="spacingAndGlyphs"><tspan font-style="italic">θ</tspan> [°]</text>
<text class="r" x="195.0" y="452.6" font-size="10.0" text-anchor="middle" fill="#5a5a5a" transform="rotate(-90.0 195.0 452.6)" textLength="38.0" lengthAdjust="spacingAndGlyphs">gap [mm]</text>
<text class="r" x="376.6" y="452.6" font-size="10.0" text-anchor="middle" fill="#5a5a5a" transform="rotate(-90.0 376.6 452.6)" textLength="38.0" lengthAdjust="spacingAndGlyphs">gap [mm]</text>
<text class="r" x="4.0" y="12.6" font-size="13.2" text-anchor="start" fill="#111">(a)</text>
<text class="r" x="185.5" y="12.6" font-size="13.2" text-anchor="start" fill="#111">(b)</text>
<text class="r" x="367.5" y="12.6" font-size="13.2" text-anchor="start" fill="#111">(c)</text>
<text class="r" x="4.0" y="194.0" font-size="13.2" text-anchor="start" fill="#111">(d)</text>
<text class="r" x="185.5" y="194.0" font-size="13.2" text-anchor="start" fill="#111">(e)</text>
<text class="r" x="367.5" y="194.0" font-size="13.2" text-anchor="start" fill="#111">(f)</text>
<text class="r" x="4.0" y="376.0" font-size="13.2" text-anchor="start" fill="#111">(g)</text>
<text class="r" x="185.5" y="376.0" font-size="13.2" text-anchor="start" fill="#111">(h)</text>
<text class="r" x="367.5" y="376.0" font-size="13.2" text-anchor="start" fill="#111">(i)</text>
</svg>
</body></html>
